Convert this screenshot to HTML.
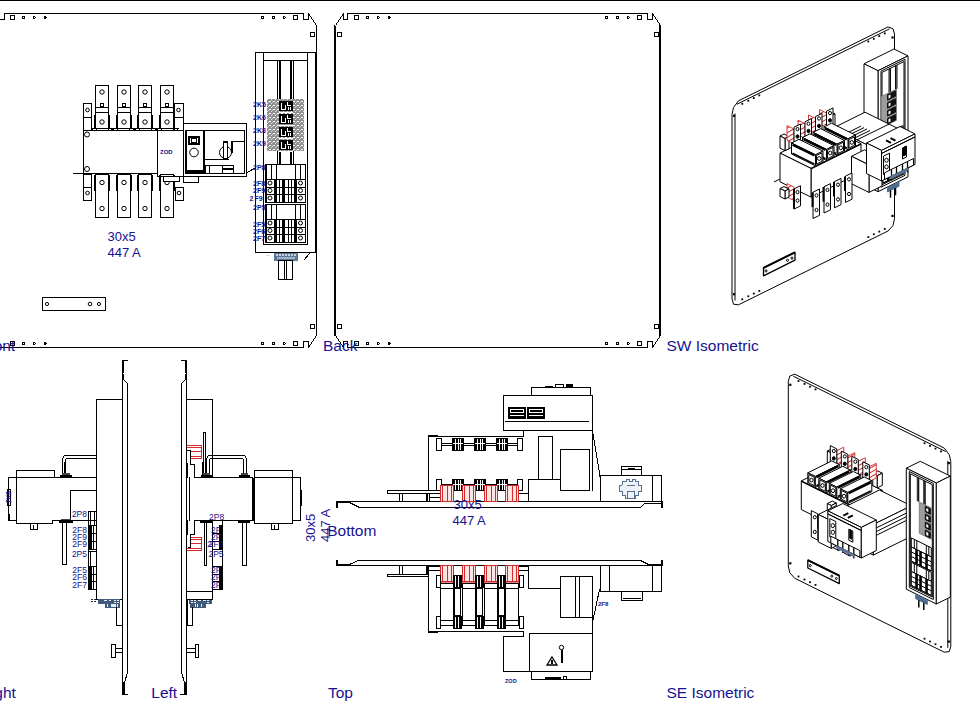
<!DOCTYPE html>
<html><head><meta charset="utf-8"><style>
html,body{margin:0;padding:0;background:#fff;width:980px;height:720px;overflow:hidden}
svg{display:block;font-family:"Liberation Sans",sans-serif}
</style></head><body>
<svg width="980" height="720" viewBox="0 0 980 720" shape-rendering="crispEdges">
<rect x="0" y="0" width="980" height="1" fill="#000"/>
<path d="M-0.5 19.5 L4.5 19.5 L4.5 13.5 L303.5 13.5 L303.5 19.5 L308.5 19.5 L308.5 13.5 L316.5 25.5 L316.5 335.5 L308.5 347.5 L308.5 341.5 L303.5 341.5 L303.5 347.5 L-0.5 347.5" fill="none" stroke="#000" stroke-width="1"/>
<path d="M10.5 15.5H14.5V19.5H10.5Z" fill="none" stroke="#000"/>
<path d="M22.5 16.5H24.5V18.5H22.5Z" fill="none" stroke="#000"/>
<rect x="33" y="16" width="1" height="3" fill="#000"/>
<rect x="34" y="16" width="1" height="1" fill="#000"/>
<rect x="34" y="18" width="1" height="1" fill="#000"/>
<rect x="35" y="17" width="1" height="1" fill="#000"/>
<rect x="44" y="16" width="2" height="3" fill="#000"/>
<rect x="46" y="17" width="1" height="1" fill="#000"/>
<path d="M261.5 16.5H263.5V18.5H261.5Z" fill="none" stroke="#000"/>
<path d="M272.5 16.5H274.5V18.5H272.5Z" fill="none" stroke="#000"/>
<rect x="283" y="16" width="1" height="3" fill="#000"/>
<rect x="284" y="16" width="1" height="1" fill="#000"/>
<rect x="284" y="18" width="1" height="1" fill="#000"/>
<rect x="285" y="17" width="1" height="1" fill="#000"/>
<path d="M293.5 15.5H297.5V19.5H293.5Z" fill="none" stroke="#000"/>
<path d="M310.5 32.5H314.5V36.5H310.5Z" fill="none" stroke="#000"/>
<path d="M310.5 324.5H314.5V328.5H310.5Z" fill="none" stroke="#000"/>
<path d="M10.5 341.5H14.5V345.5H10.5Z" fill="none" stroke="#000"/>
<path d="M22.5 342.5H24.5V344.5H22.5Z" fill="none" stroke="#000"/>
<rect x="33" y="342" width="1" height="3" fill="#000"/>
<rect x="34" y="342" width="1" height="1" fill="#000"/>
<rect x="34" y="344" width="1" height="1" fill="#000"/>
<rect x="35" y="343" width="1" height="1" fill="#000"/>
<rect x="44" y="342" width="2" height="3" fill="#000"/>
<rect x="46" y="343" width="1" height="1" fill="#000"/>
<path d="M261.5 342.5H263.5V344.5H261.5Z" fill="none" stroke="#000"/>
<path d="M272.5 342.5H274.5V344.5H272.5Z" fill="none" stroke="#000"/>
<rect x="283" y="342" width="1" height="3" fill="#000"/>
<rect x="284" y="342" width="1" height="1" fill="#000"/>
<rect x="284" y="344" width="1" height="1" fill="#000"/>
<rect x="285" y="343" width="1" height="1" fill="#000"/>
<path d="M293.5 341.5H297.5V345.5H293.5Z" fill="none" stroke="#000"/>
<path d="M335.5 25.5 L343.5 13.5 L343.5 19.5 L347.5 19.5 L347.5 13.5 L647.5 13.5 L647.5 19.5 L652.5 19.5 L652.5 13.5 L660.5 25.5 L660.5 335.5 L652.5 347.5 L652.5 341.5 L647.5 341.5 L647.5 347.5 L347.5 347.5 L347.5 341.5 L343.5 341.5 L343.5 347.5 L335.5 335.5 L335.5 25.5" fill="none" stroke="#000" stroke-width="1"/>
<rect x="334" y="25" width="1" height="311" fill="#000"/>
<rect x="659" y="25" width="1" height="311" fill="#000"/>
<path d="M354.5 15.5H358.5V19.5H354.5Z" fill="none" stroke="#000"/>
<path d="M366.5 16.5H368.5V18.5H366.5Z" fill="none" stroke="#000"/>
<rect x="377" y="16" width="1" height="3" fill="#000"/>
<rect x="378" y="16" width="1" height="1" fill="#000"/>
<rect x="378" y="18" width="1" height="1" fill="#000"/>
<rect x="379" y="17" width="1" height="1" fill="#000"/>
<rect x="388" y="16" width="2" height="3" fill="#000"/>
<rect x="390" y="17" width="1" height="1" fill="#000"/>
<path d="M605.5 16.5H607.5V18.5H605.5Z" fill="none" stroke="#000"/>
<path d="M616.5 16.5H618.5V18.5H616.5Z" fill="none" stroke="#000"/>
<rect x="627" y="16" width="1" height="3" fill="#000"/>
<rect x="628" y="16" width="1" height="1" fill="#000"/>
<rect x="628" y="18" width="1" height="1" fill="#000"/>
<rect x="629" y="17" width="1" height="1" fill="#000"/>
<path d="M637.5 15.5H641.5V19.5H637.5Z" fill="none" stroke="#000"/>
<path d="M337.5 32.5H341.5V36.5H337.5Z" fill="none" stroke="#000"/>
<path d="M337.5 324.5H341.5V328.5H337.5Z" fill="none" stroke="#000"/>
<path d="M654.5 32.5H658.5V36.5H654.5Z" fill="none" stroke="#000"/>
<path d="M654.5 324.5H658.5V328.5H654.5Z" fill="none" stroke="#000"/>
<path d="M354.5 341.5H358.5V345.5H354.5Z" fill="none" stroke="#000"/>
<path d="M366.5 342.5H368.5V344.5H366.5Z" fill="none" stroke="#000"/>
<rect x="377" y="342" width="1" height="3" fill="#000"/>
<rect x="378" y="342" width="1" height="1" fill="#000"/>
<rect x="378" y="344" width="1" height="1" fill="#000"/>
<rect x="379" y="343" width="1" height="1" fill="#000"/>
<rect x="388" y="342" width="2" height="3" fill="#000"/>
<rect x="390" y="343" width="1" height="1" fill="#000"/>
<path d="M605.5 342.5H607.5V344.5H605.5Z" fill="none" stroke="#000"/>
<path d="M616.5 342.5H618.5V344.5H616.5Z" fill="none" stroke="#000"/>
<rect x="627" y="342" width="1" height="3" fill="#000"/>
<rect x="628" y="342" width="1" height="1" fill="#000"/>
<rect x="628" y="344" width="1" height="1" fill="#000"/>
<rect x="629" y="343" width="1" height="1" fill="#000"/>
<path d="M637.5 341.5H641.5V345.5H637.5Z" fill="none" stroke="#000"/>
<text x="-21" y="350.5" font-size="15.5" fill="#161290" text-anchor="start" >Front</text>
<text x="323" y="350.5" font-size="15.5" fill="#161290" text-anchor="start" >Back</text>
<text x="666.5" y="350.6" font-size="15.5" fill="#161290" text-anchor="start" >SW Isometric</text>
<text x="-20.3" y="698" font-size="15.5" fill="#161290" text-anchor="start" >Right</text>
<text x="151.3" y="697.5" font-size="15.5" fill="#161290" text-anchor="start" >Left</text>
<text x="328" y="697.8" font-size="15.5" fill="#161290" text-anchor="start" >Top</text>
<text x="327.2" y="535.7" font-size="15.5" fill="#161290" text-anchor="start" >Bottom</text>
<text x="666.5" y="697.6" font-size="15.5" fill="#161290" text-anchor="start" >SE Isometric</text>
<defs><pattern id="gp" width="4" height="4" patternUnits="userSpaceOnUse"><rect width="4" height="4" fill="#909090"/><rect x="1" y="1" width="2" height="1" fill="#fff"/><rect x="3" y="3" width="1" height="1" fill="#e0e0e0"/><rect x="0" y="2" width="1" height="1" fill="#d0d0d0"/></pattern><pattern id="rh" width="3" height="3" patternUnits="userSpaceOnUse"><rect width="3" height="3" fill="#fff"/><rect x="0" y="0" width="1" height="3" fill="#d42a2a"/></pattern><pattern id="rd" width="4" height="4" patternUnits="userSpaceOnUse" patternTransform="rotate(-30)"><rect width="4" height="4" fill="#fff"/><rect x="0" y="0" width="4" height="1.2" fill="#d42a2a"/></pattern></defs>
<path d="M95.5 85.5H108.5V128.5H95.5Z" fill="none" stroke="#000"/>
<rect x="95" y="107" width="14" height="1" fill="#000"/>
<rect x="95" y="112" width="14" height="1" fill="#000"/>
<circle cx="102" cy="92" r="2.2" fill="none" stroke="#000" stroke-width="1" shape-rendering="auto"/>
<path d="M100.5 103.5H103.5V106.5H100.5Z" fill="none" stroke="#000"/>
<circle cx="102" cy="122" r="2.2" fill="none" stroke="#000" stroke-width="1" shape-rendering="auto"/>
<rect x="94" y="115" width="2" height="13" fill="#000"/>
<rect x="108" y="115" width="2" height="13" fill="#000"/>
<path d="M117.5 85.5H130.5V128.5H117.5Z" fill="none" stroke="#000"/>
<rect x="117" y="107" width="14" height="1" fill="#000"/>
<rect x="117" y="112" width="14" height="1" fill="#000"/>
<circle cx="124" cy="92" r="2.2" fill="none" stroke="#000" stroke-width="1" shape-rendering="auto"/>
<path d="M122.5 103.5H125.5V106.5H122.5Z" fill="none" stroke="#000"/>
<circle cx="124" cy="122" r="2.2" fill="none" stroke="#000" stroke-width="1" shape-rendering="auto"/>
<rect x="116" y="115" width="2" height="13" fill="#000"/>
<rect x="130" y="115" width="2" height="13" fill="#000"/>
<path d="M138.5 85.5H151.5V128.5H138.5Z" fill="none" stroke="#000"/>
<rect x="138" y="107" width="14" height="1" fill="#000"/>
<rect x="138" y="112" width="14" height="1" fill="#000"/>
<circle cx="145" cy="92" r="2.2" fill="none" stroke="#000" stroke-width="1" shape-rendering="auto"/>
<path d="M143.5 103.5H146.5V106.5H143.5Z" fill="none" stroke="#000"/>
<circle cx="145" cy="122" r="2.2" fill="none" stroke="#000" stroke-width="1" shape-rendering="auto"/>
<rect x="137" y="115" width="2" height="13" fill="#000"/>
<rect x="151" y="115" width="2" height="13" fill="#000"/>
<path d="M160.5 85.5H173.5V128.5H160.5Z" fill="none" stroke="#000"/>
<rect x="160" y="107" width="14" height="1" fill="#000"/>
<rect x="160" y="112" width="14" height="1" fill="#000"/>
<circle cx="167" cy="92" r="2.2" fill="none" stroke="#000" stroke-width="1" shape-rendering="auto"/>
<path d="M165.5 103.5H168.5V106.5H165.5Z" fill="none" stroke="#000"/>
<circle cx="167" cy="122" r="2.2" fill="none" stroke="#000" stroke-width="1" shape-rendering="auto"/>
<rect x="159" y="115" width="2" height="13" fill="#000"/>
<rect x="173" y="115" width="2" height="13" fill="#000"/>
<rect x="92" y="128" width="87" height="1" fill="#000"/>
<rect x="83" y="130" width="101" height="1" fill="#000"/>
<rect x="92" y="129" width="1" height="1" fill="#000"/>
<rect x="96" y="129" width="1" height="1" fill="#000"/>
<rect x="108" y="129" width="1" height="1" fill="#000"/>
<rect x="111" y="129" width="1" height="1" fill="#000"/>
<rect x="112" y="129" width="1" height="1" fill="#000"/>
<rect x="113" y="129" width="1" height="1" fill="#000"/>
<rect x="117" y="129" width="1" height="1" fill="#000"/>
<rect x="129" y="129" width="1" height="1" fill="#000"/>
<rect x="133" y="129" width="1" height="1" fill="#000"/>
<rect x="134" y="129" width="1" height="1" fill="#000"/>
<rect x="135" y="129" width="1" height="1" fill="#000"/>
<rect x="139" y="129" width="1" height="1" fill="#000"/>
<rect x="151" y="129" width="1" height="1" fill="#000"/>
<rect x="155" y="129" width="1" height="1" fill="#000"/>
<rect x="156" y="129" width="1" height="1" fill="#000"/>
<rect x="157" y="129" width="1" height="1" fill="#000"/>
<rect x="161" y="129" width="1" height="1" fill="#000"/>
<rect x="173" y="129" width="1" height="1" fill="#000"/>
<rect x="177" y="129" width="1" height="1" fill="#000"/>
<path d="M83.5 103.5H91.5V130.5H83.5Z" fill="none" stroke="#000"/>
<rect x="83" y="117" width="9" height="1" fill="#000"/>
<path d="M174.5 103.5H183.5V130.5H174.5Z" fill="none" stroke="#000"/>
<rect x="174" y="117" width="10" height="1" fill="#000"/>
<circle cx="87.5" cy="110" r="1.8" fill="none" stroke="#000" stroke-width="1" shape-rendering="auto"/>
<circle cx="178.5" cy="110" r="1.8" fill="none" stroke="#000" stroke-width="1" shape-rendering="auto"/>
<path d="M83.5 130.5H157.5V173.5H83.5Z" fill="none" stroke="#000"/>
<rect x="73" y="173" width="85" height="1" fill="#000"/>
<path d="M157.5 130.5H183.5V176.5H157.5Z" fill="none" stroke="#000"/>
<circle cx="87" cy="134.5" r="2.5" fill="none" stroke="#000" stroke-width="1" shape-rendering="auto"/>
<circle cx="87" cy="169" r="2.5" fill="none" stroke="#000" stroke-width="1" shape-rendering="auto"/>
<text x="160" y="154" font-size="6" fill="#161290" text-anchor="start" font-weight="bold">ZOD</text>
<path d="M95.5 174.5H108.5V217.5H95.5Z" fill="none" stroke="#000"/>
<circle cx="102" cy="182.5" r="2.2" fill="none" stroke="#000" stroke-width="1" shape-rendering="auto"/>
<circle cx="102" cy="208.5" r="2.2" fill="none" stroke="#000" stroke-width="1" shape-rendering="auto"/>
<rect x="94" y="175" width="2" height="16" fill="#000"/>
<rect x="109" y="175" width="1" height="16" fill="#000"/>
<path d="M117.5 174.5H130.5V217.5H117.5Z" fill="none" stroke="#000"/>
<circle cx="124" cy="182.5" r="2.2" fill="none" stroke="#000" stroke-width="1" shape-rendering="auto"/>
<circle cx="124" cy="208.5" r="2.2" fill="none" stroke="#000" stroke-width="1" shape-rendering="auto"/>
<rect x="116" y="175" width="2" height="16" fill="#000"/>
<rect x="131" y="175" width="1" height="16" fill="#000"/>
<path d="M138.5 174.5H151.5V217.5H138.5Z" fill="none" stroke="#000"/>
<circle cx="145" cy="182.5" r="2.2" fill="none" stroke="#000" stroke-width="1" shape-rendering="auto"/>
<circle cx="145" cy="208.5" r="2.2" fill="none" stroke="#000" stroke-width="1" shape-rendering="auto"/>
<rect x="137" y="175" width="2" height="16" fill="#000"/>
<rect x="152" y="175" width="1" height="16" fill="#000"/>
<path d="M160.5 174.5H173.5V217.5H160.5Z" fill="none" stroke="#000"/>
<circle cx="167" cy="182.5" r="2.2" fill="none" stroke="#000" stroke-width="1" shape-rendering="auto"/>
<circle cx="167" cy="208.5" r="2.2" fill="none" stroke="#000" stroke-width="1" shape-rendering="auto"/>
<rect x="159" y="175" width="2" height="16" fill="#000"/>
<rect x="174" y="175" width="1" height="16" fill="#000"/>
<path d="M83.5 174.5H91.5V200.5H83.5Z" fill="none" stroke="#000"/>
<rect x="83" y="187" width="9" height="1" fill="#000"/>
<circle cx="87.5" cy="193" r="1.8" fill="none" stroke="#000" stroke-width="1" shape-rendering="auto"/>
<path d="M175.5 187.5H183.5V200.5H175.5Z" fill="none" stroke="#000"/>
<circle cx="179" cy="193" r="1.8" fill="none" stroke="#000" stroke-width="1" shape-rendering="auto"/>
<path d="M163.5 176.5H179.5V181.5H163.5Z" fill="#fff" stroke="#000"/>
<path d="M183.5 176.5H198.5V182.5H183.5Z" fill="none" stroke="#000"/>
<path d="M183.5 123.5H246.5V176.5H183.5Z" fill="none" stroke="#000"/>
<path d="M185.5 130.5H244.5V173.5H185.5Z" fill="none" stroke="#000"/>
<rect x="186" y="130" width="1" height="44" fill="#000"/>
<rect x="203" y="130" width="2" height="44" fill="#000"/>
<rect x="186" y="170" width="18" height="3" fill="#000"/>
<path d="M188.5 136.5H199.5V144.5H188.5Z" fill="none" stroke="#000"/>
<path d="M189.5 137.5H198.5V143.5H189.5Z" fill="none" stroke="#000"/>
<path d="M191.5 138.5H196.5V142.5H191.5Z" fill="none" stroke="#000"/>
<circle cx="194" cy="152.5" r="4.3" fill="none" stroke="#000" stroke-width="1" shape-rendering="auto"/>
<rect x="204" y="159" width="25" height="1" fill="#000"/>
<rect x="231" y="141" width="2" height="12" fill="#000"/>
<rect x="231" y="141" width="14" height="1" fill="#000"/>
<circle cx="225.5" cy="152.5" r="6" fill="none" stroke="#000" stroke-width="1" shape-rendering="auto"/>
<path d="M223.5 141.5H227.5V158.5H223.5Z" fill="#fff" stroke="#000"/>
<rect x="223" y="141" width="5" height="2" fill="#000"/>
<path d="M205.5 165.5H233.5V173.5H205.5Z" fill="none" stroke="#000"/>
<rect x="209" y="165" width="1" height="9" fill="#000"/>
<rect x="222" y="165" width="1" height="9" fill="#000"/>
<rect x="222" y="168" width="12" height="2" fill="#000"/>
<line x1="247.5" y1="172.5" x2="255.5" y2="167.5" stroke="#000" stroke-width="1"/>
<rect x="255" y="52" width="1" height="201" fill="#000"/>
<rect x="263" y="52" width="1" height="193" fill="#000"/>
<rect x="307" y="52" width="1" height="193" fill="#000"/>
<rect x="315" y="52" width="1" height="201" fill="#000"/>
<rect x="255" y="52" width="61" height="1" fill="#000"/>
<rect x="263" y="60" width="45" height="1" fill="#000"/>
<rect x="277" y="60" width="1" height="40" fill="#000"/>
<rect x="279" y="60" width="2" height="40" fill="#000"/>
<rect x="290" y="60" width="2" height="40" fill="#000"/>
<rect x="293" y="60" width="1" height="40" fill="#000"/>
<rect x="277" y="150" width="1" height="15" fill="#000"/>
<rect x="279" y="150" width="2" height="15" fill="#000"/>
<rect x="290" y="150" width="2" height="15" fill="#000"/>
<rect x="293" y="150" width="1" height="15" fill="#000"/>
<rect x="267" y="99" width="37" height="52" fill="url(#gp)"/>
<rect x="279" y="101" width="14" height="10" fill="#000"/>
<rect x="281" y="103" width="1" height="7" fill="#fff"/>
<rect x="281" y="109" width="5" height="1" fill="#fff"/>
<rect x="285" y="105" width="1" height="5" fill="#fff"/>
<rect x="287" y="102" width="1" height="4" fill="#fff"/>
<rect x="287" y="105" width="4" height="1" fill="#fff"/>
<rect x="288" y="107" width="1" height="3" fill="#fff"/>
<rect x="290" y="107" width="1" height="3" fill="#fff"/>
<rect x="279" y="112" width="14" height="1" fill="#fff"/>
<rect x="279" y="114" width="14" height="10" fill="#000"/>
<rect x="281" y="116" width="1" height="7" fill="#fff"/>
<rect x="281" y="122" width="5" height="1" fill="#fff"/>
<rect x="285" y="118" width="1" height="5" fill="#fff"/>
<rect x="287" y="115" width="1" height="4" fill="#fff"/>
<rect x="287" y="118" width="4" height="1" fill="#fff"/>
<rect x="288" y="120" width="1" height="3" fill="#fff"/>
<rect x="290" y="120" width="1" height="3" fill="#fff"/>
<rect x="279" y="125" width="14" height="1" fill="#fff"/>
<rect x="279" y="127" width="14" height="10" fill="#000"/>
<rect x="281" y="129" width="1" height="7" fill="#fff"/>
<rect x="281" y="135" width="5" height="1" fill="#fff"/>
<rect x="285" y="131" width="1" height="5" fill="#fff"/>
<rect x="287" y="128" width="1" height="4" fill="#fff"/>
<rect x="287" y="131" width="4" height="1" fill="#fff"/>
<rect x="288" y="133" width="1" height="3" fill="#fff"/>
<rect x="290" y="133" width="1" height="3" fill="#fff"/>
<rect x="279" y="138" width="14" height="1" fill="#fff"/>
<rect x="279" y="140" width="14" height="10" fill="#000"/>
<rect x="281" y="142" width="1" height="7" fill="#fff"/>
<rect x="281" y="148" width="5" height="1" fill="#fff"/>
<rect x="285" y="144" width="1" height="5" fill="#fff"/>
<rect x="287" y="141" width="1" height="4" fill="#fff"/>
<rect x="287" y="144" width="4" height="1" fill="#fff"/>
<rect x="288" y="146" width="1" height="3" fill="#fff"/>
<rect x="290" y="146" width="1" height="3" fill="#fff"/>
<rect x="279" y="151" width="14" height="1" fill="#fff"/>
<text x="253" y="107" font-size="7" fill="#161290" text-anchor="start" font-weight="bold">2K5</text>
<text x="253" y="120" font-size="7" fill="#161290" text-anchor="start" font-weight="bold">2K6</text>
<text x="253" y="133" font-size="7" fill="#161290" text-anchor="start" font-weight="bold">2K8</text>
<text x="253" y="146" font-size="7" fill="#161290" text-anchor="start" font-weight="bold">2K9</text>
<path d="M265.5 164.5H305.5V179.5H265.5Z" fill="none" stroke="#000"/>
<rect x="265" y="164" width="2" height="16" fill="#000"/>
<rect x="271" y="164" width="1" height="16" fill="#000"/>
<rect x="276" y="164" width="1" height="16" fill="#000"/>
<rect x="295" y="164" width="1" height="16" fill="#000"/>
<rect x="300" y="164" width="1" height="16" fill="#000"/>
<path d="M265.5 179.5H305.5V202.5H265.5Z" fill="none" stroke="#000"/>
<rect x="265" y="179" width="2" height="24" fill="#000"/>
<rect x="265" y="187" width="41" height="1" fill="#000"/>
<rect x="265" y="194" width="41" height="1" fill="#000"/>
<rect x="274" y="179" width="3" height="24" fill="#000"/>
<rect x="282" y="179" width="3" height="24" fill="#000"/>
<rect x="294" y="179" width="3" height="24" fill="#000"/>
<rect x="279" y="179" width="1" height="24" fill="#000"/>
<rect x="288" y="179" width="1" height="24" fill="#000"/>
<rect x="291" y="179" width="1" height="24" fill="#000"/>
<circle cx="270" cy="183.0" r="2" fill="none" stroke="#000" stroke-width="1" shape-rendering="auto"/>
<circle cx="300.5" cy="183.0" r="2" fill="none" stroke="#000" stroke-width="1" shape-rendering="auto"/>
<circle cx="270" cy="190.5" r="2" fill="none" stroke="#000" stroke-width="1" shape-rendering="auto"/>
<circle cx="300.5" cy="190.5" r="2" fill="none" stroke="#000" stroke-width="1" shape-rendering="auto"/>
<circle cx="270" cy="198.0" r="2" fill="none" stroke="#000" stroke-width="1" shape-rendering="auto"/>
<circle cx="300.5" cy="198.0" r="2" fill="none" stroke="#000" stroke-width="1" shape-rendering="auto"/>
<path d="M265.5 204.5H305.5V219.5H265.5Z" fill="none" stroke="#000"/>
<rect x="265" y="204" width="2" height="16" fill="#000"/>
<rect x="271" y="204" width="1" height="16" fill="#000"/>
<rect x="276" y="204" width="1" height="16" fill="#000"/>
<rect x="295" y="204" width="1" height="16" fill="#000"/>
<rect x="300" y="204" width="1" height="16" fill="#000"/>
<path d="M265.5 219.5H305.5V242.5H265.5Z" fill="none" stroke="#000"/>
<rect x="265" y="219" width="2" height="24" fill="#000"/>
<rect x="265" y="227" width="41" height="1" fill="#000"/>
<rect x="265" y="234" width="41" height="1" fill="#000"/>
<rect x="274" y="219" width="3" height="24" fill="#000"/>
<rect x="282" y="219" width="3" height="24" fill="#000"/>
<rect x="294" y="219" width="3" height="24" fill="#000"/>
<rect x="279" y="219" width="1" height="24" fill="#000"/>
<rect x="288" y="219" width="1" height="24" fill="#000"/>
<rect x="291" y="219" width="1" height="24" fill="#000"/>
<circle cx="270" cy="223.0" r="2" fill="none" stroke="#000" stroke-width="1" shape-rendering="auto"/>
<circle cx="300.5" cy="223.0" r="2" fill="none" stroke="#000" stroke-width="1" shape-rendering="auto"/>
<circle cx="270" cy="230.5" r="2" fill="none" stroke="#000" stroke-width="1" shape-rendering="auto"/>
<circle cx="300.5" cy="230.5" r="2" fill="none" stroke="#000" stroke-width="1" shape-rendering="auto"/>
<circle cx="270" cy="238.0" r="2" fill="none" stroke="#000" stroke-width="1" shape-rendering="auto"/>
<circle cx="300.5" cy="238.0" r="2" fill="none" stroke="#000" stroke-width="1" shape-rendering="auto"/>
<rect x="263" y="244" width="45" height="1" fill="#000"/>
<rect x="255" y="252" width="61" height="1" fill="#000"/>
<text x="253" y="170" font-size="7" fill="#161290" text-anchor="start" font-weight="bold">2P8</text>
<text x="253" y="186" font-size="7" fill="#161290" text-anchor="start" font-weight="bold">2F8</text>
<text x="253" y="193" font-size="7" fill="#161290" text-anchor="start" font-weight="bold">2F9</text>
<text x="253" y="210" font-size="7" fill="#161290" text-anchor="start" font-weight="bold">2P5</text>
<text x="253" y="227" font-size="7" fill="#161290" text-anchor="start" font-weight="bold">2F5</text>
<text x="253" y="234" font-size="7" fill="#161290" text-anchor="start" font-weight="bold">2F6</text>
<text x="253" y="241" font-size="7" fill="#161290" text-anchor="start" font-weight="bold">2F7</text>
<text x="249.5" y="201" font-size="7" fill="#161290" text-anchor="start" font-weight="bold">2</text>
<text x="254.5" y="201" font-size="7" fill="#161290" text-anchor="start" font-weight="bold">F9</text>
<rect x="274" y="253" width="24" height="8" fill="#5a7696"/>
<rect x="276" y="254" width="2" height="2" fill="#c8d4e0"/>
<rect x="279" y="254" width="2" height="2" fill="#c8d4e0"/>
<rect x="282" y="254" width="2" height="2" fill="#c8d4e0"/>
<rect x="285" y="254" width="2" height="2" fill="#c8d4e0"/>
<rect x="288" y="254" width="2" height="2" fill="#c8d4e0"/>
<rect x="291" y="254" width="2" height="2" fill="#c8d4e0"/>
<rect x="294" y="254" width="2" height="2" fill="#c8d4e0"/>
<rect x="277" y="257" width="18" height="2" fill="#9fb2c6"/>
<path d="M278.5 260.5H292.5V279.5H278.5Z" fill="none" stroke="#000"/>
<rect x="284" y="260" width="1" height="20" fill="#000"/>
<rect x="286" y="260" width="1" height="20" fill="#000"/>
<line x1="303.5" y1="260.5" x2="309.5" y2="253.5" stroke="#000" stroke-width="1"/>
<text x="266" y="256" font-size="6" fill="#161290" text-anchor="start" >..</text>
<path d="M42.5 297.5H105.5V310.5H42.5Z" fill="none" stroke="#000"/>
<circle cx="47" cy="304" r="1.6" fill="none" stroke="#000" stroke-width="1" shape-rendering="auto"/>
<circle cx="90" cy="304" r="1.8" fill="none" stroke="#000" stroke-width="1" shape-rendering="auto"/>
<circle cx="99" cy="304" r="1.6" fill="none" stroke="#000" stroke-width="1" shape-rendering="auto"/>
<text x="107.5" y="240.7" font-size="13" fill="#161290" text-anchor="start" >30x5</text>
<text x="107.5" y="256.6" font-size="13" fill="#161290" text-anchor="start" >447 A</text>
<rect x="122" y="360" width="6" height="1" fill="#000"/>
<rect x="122" y="360" width="1" height="335" fill="#000"/>
<rect x="123" y="360" width="1" height="13" fill="#000"/>
<path d="M123.5 373.5 L123.5 379.5 L127.5 383.5 L127.5 672.5 L124.5 682.5 L124.5 694.5" fill="none" stroke="#000" stroke-width="1"/>
<rect x="122" y="694" width="6" height="1" fill="#000"/>
<rect x="123" y="682" width="1" height="13" fill="#000"/>
<path d="M96.5 399.5H122.5V599.5H96.5Z" fill="none" stroke="#000"/>
<path d="M62.5 476.5 L62.5 458.5 L64.5 455.5 L96.5 455.5" fill="none" stroke="#000" stroke-width="1"/>
<path d="M65.5 476.5 L65.5 459.5 L66.5 458.5 L96.5 458.5" fill="none" stroke="#000" stroke-width="1"/>
<rect x="64" y="462" width="1" height="15" fill="#000"/>
<rect x="60" y="475" width="12" height="2" fill="#000"/>
<rect x="62" y="473" width="8" height="2" fill="#444"/>
<rect x="8" y="477" width="89" height="1" fill="#000"/>
<path d="M16.5 470.5H54.5V477.5H16.5Z" fill="none" stroke="#000"/>
<rect x="16" y="477" width="1" height="47" fill="#000"/>
<rect x="16" y="523" width="37" height="1" fill="#000"/>
<rect x="52" y="520" width="1" height="4" fill="#000"/>
<rect x="52" y="520" width="45" height="1" fill="#000"/>
<path d="M8.5 477.5H16.5V520.5H8.5Z" fill="none" stroke="#000"/>
<rect x="8" y="514" width="2" height="7" fill="#000"/>
<path d="M7.5 489.5H10.5V505.5H7.5Z" fill="none" stroke="#000"/>
<text x="0" y="0" font-size="6.5" fill="#161290" text-anchor="start" transform="translate(10.5 503) rotate(-90)" font-weight="bold">2K8</text>
<path d="M70.5 490.5H96.5V520.5H70.5Z" fill="none" stroke="#000"/>
<path d="M30.5 523.5H37.5V529.5H30.5Z" fill="none" stroke="#000"/>
<rect x="33" y="525" width="1" height="5" fill="#000"/>
<rect x="59" y="520" width="14" height="3" fill="#000"/>
<rect x="61" y="519" width="10" height="1" fill="#444"/>
<rect x="62" y="522" width="1" height="43" fill="#000"/>
<rect x="66" y="522" width="1" height="43" fill="#000"/>
<rect x="62" y="564" width="5" height="1" fill="#000"/>
<path d="M88.5 511.5H96.5V589.5H88.5Z" fill="none" stroke="#000"/>
<rect x="90" y="511" width="1" height="15" fill="#000"/>
<rect x="94" y="511" width="1" height="15" fill="#000"/>
<rect x="88" y="525" width="9" height="1" fill="#000"/>
<rect x="88" y="525" width="4" height="25" fill="#000"/>
<rect x="88" y="533" width="9" height="1" fill="#000"/>
<rect x="88" y="541" width="9" height="1" fill="#000"/>
<rect x="88" y="549" width="9" height="1" fill="#000"/>
<rect x="93" y="525" width="1" height="25" fill="#000"/>
<rect x="90" y="551" width="1" height="16" fill="#000"/>
<rect x="88" y="551" width="9" height="1" fill="#000"/>
<rect x="88" y="566" width="9" height="1" fill="#000"/>
<rect x="88" y="567" width="4" height="23" fill="#000"/>
<rect x="88" y="574" width="9" height="1" fill="#000"/>
<rect x="88" y="581" width="9" height="1" fill="#000"/>
<rect x="93" y="567" width="1" height="23" fill="#000"/>
<text x="87" y="517" font-size="8.5" fill="#161290" text-anchor="end" >2P8</text>
<text x="87" y="533" font-size="8.5" fill="#161290" text-anchor="end" >2F8</text>
<text x="87" y="540" font-size="8.5" fill="#161290" text-anchor="end" >2F9</text>
<text x="87" y="547" font-size="8.5" fill="#161290" text-anchor="end" >2F9</text>
<text x="87" y="557" font-size="8.5" fill="#161290" text-anchor="end" >2P5</text>
<text x="87" y="573" font-size="8.5" fill="#161290" text-anchor="end" >2F5</text>
<text x="87" y="580" font-size="8.5" fill="#161290" text-anchor="end" >2F6</text>
<text x="87" y="588" font-size="8.5" fill="#161290" text-anchor="end" >2F7</text>
<rect x="98" y="599" width="22" height="5" fill="#3f5a7a"/>
<rect x="105" y="604" width="15" height="4" fill="#3f5a7a"/>
<rect x="104" y="600" width="3" height="1" fill="#e8eef4"/>
<rect x="109" y="600" width="2" height="1" fill="#e8eef4"/>
<rect x="114" y="600" width="2" height="1" fill="#e8eef4"/>
<rect x="117" y="600" width="2" height="1" fill="#e8eef4"/>
<rect x="114" y="602" width="2" height="1" fill="#e8eef4"/>
<rect x="117" y="602" width="2" height="1" fill="#e8eef4"/>
<rect x="107" y="604" width="1" height="3" fill="#e8eef4"/>
<rect x="111" y="604" width="5" height="3" fill="#e8eef4"/>
<rect x="117" y="604" width="1" height="3" fill="#e8eef4"/>
<rect x="91" y="599" width="2" height="1" fill="#222"/>
<rect x="94" y="599" width="2" height="1" fill="#222"/>
<rect x="91" y="601" width="2" height="1" fill="#222"/>
<rect x="94" y="601" width="2" height="1" fill="#222"/>
<rect x="116" y="607" width="1" height="19" fill="#000"/>
<rect x="116" y="625" width="7" height="1" fill="#000"/>
<path d="M111.5 644.5H115.5V657.5H111.5Z" fill="none" stroke="#000"/>
<rect x="115" y="648" width="8" height="1" fill="#000"/>
<rect x="115" y="652" width="8" height="1" fill="#000"/>
<rect x="181" y="360" width="6" height="1" fill="#000"/>
<rect x="186" y="360" width="1" height="335" fill="#000"/>
<rect x="185" y="360" width="1" height="13" fill="#000"/>
<path d="M185.5 373.5 L185.5 379.5 L181.5 383.5 L181.5 672.5 L184.5 682.5 L184.5 694.5" fill="none" stroke="#000" stroke-width="1"/>
<rect x="180" y="694" width="7" height="1" fill="#000"/>
<rect x="185" y="682" width="1" height="13" fill="#000"/>
<path d="M186.5 399.5H212.5V591.5H186.5Z" fill="none" stroke="#000"/>
<path d="M186.5 591.5H212.5V599.5H186.5Z" fill="none" stroke="#000"/>
<rect x="187" y="445" width="15" height="1" fill="#d42a2a"/>
<rect x="187" y="447" width="15" height="1" fill="#d42a2a"/>
<rect x="191" y="451" width="11" height="1" fill="#d42a2a"/>
<rect x="191" y="456" width="11" height="1" fill="#d42a2a"/>
<rect x="191" y="458" width="11" height="1" fill="#d42a2a"/>
<rect x="201" y="445" width="1" height="14" fill="#d42a2a"/>
<path d="M186.5 450.5 L190.5 450.5 L190.5 464.5 L194.5 464.5 L194.5 477.5" fill="none" stroke="#000" stroke-width="1"/>
<rect x="187" y="463" width="1" height="15" fill="#000"/>
<rect x="202" y="462" width="1" height="16" fill="#000"/>
<rect x="203" y="432" width="1" height="46" fill="#000"/>
<rect x="205" y="432" width="1" height="46" fill="#000"/>
<rect x="203" y="432" width="3" height="1" fill="#000"/>
<path d="M206.5 476.5 L206.5 458.5 L208.5 455.5 L244.5 455.5 L246.5 458.5 L246.5 476.5" fill="none" stroke="#000" stroke-width="1"/>
<path d="M209.5 476.5 L209.5 459.5 L210.5 458.5 L242.5 458.5 L243.5 459.5 L243.5 476.5" fill="none" stroke="#000" stroke-width="1"/>
<rect x="201" y="475" width="11" height="2" fill="#000"/>
<rect x="203" y="473" width="7" height="2" fill="#444"/>
<rect x="239" y="475" width="11" height="2" fill="#000"/>
<rect x="241" y="473" width="7" height="2" fill="#444"/>
<rect x="194" y="478" width="58" height="42" fill="#fff"/>
<rect x="194" y="477" width="59" height="1" fill="#000"/>
<rect x="194" y="520" width="59" height="1" fill="#000"/>
<rect x="252" y="478" width="2" height="43" fill="#000"/>
<path d="M254.5 470.5H292.5V477.5H254.5Z" fill="none" stroke="#000"/>
<path d="M254.5 477.5H292.5V523.5H254.5Z" fill="none" stroke="#000"/>
<path d="M292.5 477.5H300.5V520.5H292.5Z" fill="none" stroke="#000"/>
<rect x="300" y="490" width="2" height="16" fill="#000"/>
<path d="M271.5 523.5H278.5V529.5H271.5Z" fill="none" stroke="#000"/>
<rect x="274" y="525" width="1" height="5" fill="#000"/>
<text x="209" y="520" font-size="8.5" fill="#161290" text-anchor="start" >2P8</text>
<rect x="189" y="477" width="1" height="44" fill="#000"/>
<rect x="200" y="520" width="12" height="3" fill="#000"/>
<rect x="204" y="522" width="1" height="44" fill="#000"/>
<rect x="206" y="522" width="1" height="44" fill="#000"/>
<rect x="204" y="565" width="3" height="1" fill="#000"/>
<rect x="238" y="520" width="12" height="3" fill="#000"/>
<rect x="242" y="522" width="1" height="44" fill="#000"/>
<rect x="246" y="522" width="1" height="44" fill="#000"/>
<rect x="242" y="565" width="5" height="1" fill="#000"/>
<path d="M212.5 520.5H222.5V589.5H212.5Z" fill="none" stroke="#000"/>
<rect x="219" y="525" width="4" height="25" fill="#000"/>
<rect x="219" y="567" width="4" height="23" fill="#000"/>
<rect x="212" y="533" width="11" height="1" fill="#000"/>
<rect x="212" y="541" width="11" height="1" fill="#000"/>
<rect x="212" y="549" width="11" height="1" fill="#000"/>
<rect x="212" y="566" width="11" height="1" fill="#000"/>
<rect x="212" y="574" width="11" height="1" fill="#000"/>
<rect x="212" y="581" width="11" height="1" fill="#000"/>
<text x="216" y="533" font-size="8.5" fill="#161290" text-anchor="middle" >2F</text>
<text x="216" y="540" font-size="8.5" fill="#161290" text-anchor="middle" >2F</text>
<text x="216" y="547" font-size="8.5" fill="#161290" text-anchor="middle" >2F9</text>
<text x="216" y="557" font-size="8.5" fill="#161290" text-anchor="middle" >2P5</text>
<text x="216" y="573" font-size="8.5" fill="#161290" text-anchor="middle" >2F</text>
<text x="216" y="580" font-size="8.5" fill="#161290" text-anchor="middle" >2F</text>
<text x="216" y="588" font-size="8.5" fill="#161290" text-anchor="middle" >2F</text>
<text x="212" y="547" font-size="8.5" fill="#161290" text-anchor="end" >2</text>
<rect x="187" y="548" width="15" height="1" fill="#d42a2a"/>
<rect x="187" y="550" width="15" height="1" fill="#d42a2a"/>
<rect x="191" y="537" width="11" height="1" fill="#d42a2a"/>
<rect x="191" y="539" width="11" height="1" fill="#d42a2a"/>
<rect x="191" y="543" width="11" height="1" fill="#d42a2a"/>
<rect x="201" y="537" width="1" height="14" fill="#d42a2a"/>
<path d="M194.5 520.5 L194.5 534.5 L190.5 534.5 L190.5 547.5 L187.5 547.5" fill="none" stroke="#000" stroke-width="1"/>
<rect x="187" y="520" width="1" height="15" fill="#000"/>
<rect x="189" y="600" width="23" height="4" fill="#3f5a7a"/>
<rect x="190" y="604" width="16" height="4" fill="#3f5a7a"/>
<rect x="191" y="600" width="2" height="1" fill="#e8eef4"/>
<rect x="194" y="600" width="2" height="1" fill="#e8eef4"/>
<rect x="191" y="602" width="2" height="1" fill="#e8eef4"/>
<rect x="194" y="602" width="2" height="1" fill="#e8eef4"/>
<rect x="198" y="600" width="3" height="1" fill="#e8eef4"/>
<rect x="203" y="600" width="3" height="1" fill="#e8eef4"/>
<rect x="207" y="600" width="2" height="1" fill="#e8eef4"/>
<rect x="207" y="602" width="2" height="1" fill="#e8eef4"/>
<rect x="195" y="604" width="1" height="3" fill="#e8eef4"/>
<rect x="197" y="604" width="1" height="3" fill="#e8eef4"/>
<rect x="201" y="604" width="1" height="3" fill="#e8eef4"/>
<rect x="187" y="599" width="1" height="27" fill="#000"/>
<rect x="192" y="607" width="1" height="19" fill="#000"/>
<rect x="187" y="625" width="6" height="1" fill="#000"/>
<path d="M195.5 644.5H198.5V657.5H195.5Z" fill="none" stroke="#000"/>
<rect x="186" y="648" width="10" height="1" fill="#000"/>
<rect x="186" y="652" width="10" height="1" fill="#000"/>
<text x="0" y="0" font-size="13" fill="#161290" text-anchor="start" transform="translate(314.5 542) rotate(-90)">30x5</text>
<text x="0" y="0" font-size="13" fill="#161290" text-anchor="start" transform="translate(330 542) rotate(-90)">447 A</text>
<rect x="336" y="501" width="313" height="1" fill="#000"/>
<rect x="337" y="502" width="13" height="1" fill="#000"/>
<rect x="336" y="501" width="2" height="7" fill="#000"/>
<line x1="349.5" y1="502.5" x2="359.5" y2="507.5" stroke="#000" stroke-width="1"/>
<rect x="359" y="507" width="282" height="1" fill="#000"/>
<path d="M640.5 507.5 L642.5 505.5 L644.5 503.5 L661.5 503.5" fill="none" stroke="#000" stroke-width="1"/>
<rect x="648" y="501" width="14" height="1" fill="#000"/>
<rect x="661" y="501" width="2" height="7" fill="#000"/>
<path d="M387.5 490.5H450.5V493.5H387.5Z" fill="none" stroke="#000"/>
<rect x="399" y="493" width="1" height="9" fill="#000"/>
<rect x="402" y="493" width="1" height="9" fill="#000"/>
<rect x="426" y="493" width="2" height="9" fill="#000"/>
<rect x="429" y="493" width="1" height="9" fill="#000"/>
<rect x="429" y="497" width="12" height="1" fill="#000"/>
<rect x="428" y="436" width="1" height="55" fill="#000"/>
<rect x="428" y="436" width="96" height="1" fill="#000"/>
<rect x="428" y="435" width="10" height="1" fill="#000"/>
<rect x="523" y="430" width="1" height="7" fill="#000"/>
<path d="M503.5 395.5H592.5V430.5H503.5Z" fill="none" stroke="#000"/>
<path d="M531.5 387.5H590.5V395.5H531.5Z" fill="none" stroke="#000"/>
<path d="M555.5 384.5H563.5V387.5H555.5Z" fill="none" stroke="#000"/>
<rect x="566" y="384" width="7" height="4" fill="#000"/>
<rect x="545" y="386" width="8" height="2" fill="#000"/>
<rect x="505" y="421" width="84" height="1" fill="#000"/>
<rect x="508" y="407" width="18" height="12" fill="#000"/>
<path d="M510.5 409.5H523.5V412.5H510.5Z" fill="none" stroke="#fff"/>
<rect x="510" y="415" width="14" height="1" fill="#fff"/>
<rect x="527" y="407" width="18" height="12" fill="#000"/>
<path d="M529.5 409.5H542.5V412.5H529.5Z" fill="none" stroke="#fff"/>
<rect x="529" y="415" width="14" height="1" fill="#fff"/>
<rect x="592" y="430" width="1" height="20" fill="#000"/>
<line x1="592.5" y1="430.5" x2="600.5" y2="479.5" stroke="#000" stroke-width="1"/>
<path d="M538.5 436.5H552.5V479.5H538.5Z" fill="none" stroke="#000"/>
<path d="M560.5 449.5H589.5V490.5H560.5Z" fill="none" stroke="#000"/>
<rect x="592" y="449" width="1" height="42" fill="#000"/>
<rect x="528" y="479" width="1" height="23" fill="#000"/>
<rect x="528" y="479" width="33" height="1" fill="#000"/>
<rect x="519" y="493" width="10" height="1" fill="#000"/>
<path d="M600.5 475.5H661.5V501.5H600.5Z" fill="none" stroke="#000"/>
<rect x="652" y="475" width="1" height="27" fill="#000"/>
<path d="M621.5 466.5H641.5V475.5H621.5Z" fill="none" stroke="#000"/>
<rect x="621" y="469" width="21" height="1" fill="#000"/>
<rect x="628" y="468" width="7" height="2" fill="#000"/>
<path d="M623 481h3v-2h3v2h3v-2h3v2h3v4h3v6h-3v4h-3v3h-10v-3h-3v-4h-3v-6h3z" fill="#eef2f6" stroke="#5a7090" stroke-width="1"/>
<rect x="627" y="485" width="8" height="1" fill="#5a7090"/>
<path d="M627.5 491.5H634.5V498.5H627.5Z" fill="none" stroke="#5a7090"/>
<path d="M436.5 438.5H441.5V450.5H436.5Z" fill="none" stroke="#000"/>
<path d="M517.5 438.5H522.5V450.5H517.5Z" fill="none" stroke="#000"/>
<rect x="441" y="443" width="77" height="1" fill="#000"/>
<rect x="441" y="445" width="77" height="1" fill="#000"/>
<rect x="452" y="438" width="12" height="13" fill="#000"/>
<rect x="455" y="439" width="1" height="11" fill="#fff"/>
<rect x="458" y="439" width="1" height="11" fill="#fff"/>
<rect x="460" y="439" width="1" height="11" fill="#fff"/>
<rect x="453" y="443" width="10" height="1" fill="#fff"/>
<rect x="474" y="438" width="12" height="13" fill="#000"/>
<rect x="477" y="439" width="1" height="11" fill="#fff"/>
<rect x="480" y="439" width="1" height="11" fill="#fff"/>
<rect x="482" y="439" width="1" height="11" fill="#fff"/>
<rect x="475" y="443" width="10" height="1" fill="#fff"/>
<rect x="496" y="438" width="12" height="13" fill="#000"/>
<rect x="499" y="439" width="1" height="11" fill="#fff"/>
<rect x="502" y="439" width="1" height="11" fill="#fff"/>
<rect x="504" y="439" width="1" height="11" fill="#fff"/>
<rect x="497" y="443" width="10" height="1" fill="#fff"/>
<path d="M436.5 479.5H441.5V490.5H436.5Z" fill="none" stroke="#000"/>
<path d="M517.5 479.5H522.5V490.5H517.5Z" fill="none" stroke="#000"/>
<rect x="441" y="484" width="77" height="1" fill="#000"/>
<rect x="441" y="486" width="77" height="1" fill="#000"/>
<rect x="452" y="479" width="12" height="12" fill="#000"/>
<rect x="455" y="480" width="1" height="10" fill="#fff"/>
<rect x="458" y="480" width="1" height="10" fill="#fff"/>
<rect x="460" y="480" width="1" height="10" fill="#fff"/>
<rect x="453" y="484" width="10" height="1" fill="#fff"/>
<rect x="474" y="479" width="12" height="12" fill="#000"/>
<rect x="477" y="480" width="1" height="10" fill="#fff"/>
<rect x="480" y="480" width="1" height="10" fill="#fff"/>
<rect x="482" y="480" width="1" height="10" fill="#fff"/>
<rect x="475" y="484" width="10" height="1" fill="#fff"/>
<rect x="496" y="479" width="12" height="12" fill="#000"/>
<rect x="499" y="480" width="1" height="10" fill="#fff"/>
<rect x="502" y="480" width="1" height="10" fill="#fff"/>
<rect x="504" y="480" width="1" height="10" fill="#fff"/>
<rect x="497" y="484" width="10" height="1" fill="#fff"/>
<rect x="440" y="485" width="14" height="17" fill="#fbe4e4"/>
<path d="M440.5 485.5H453.5V501.5H440.5Z" fill="none" stroke="#d42a2a"/>
<rect x="442" y="485" width="1" height="17" fill="#d42a2a"/>
<rect x="447" y="485" width="1" height="17" fill="#d42a2a"/>
<rect x="451" y="485" width="1" height="17" fill="#d42a2a"/>
<rect x="462" y="485" width="14" height="17" fill="#fbe4e4"/>
<path d="M462.5 485.5H475.5V501.5H462.5Z" fill="none" stroke="#d42a2a"/>
<rect x="464" y="485" width="1" height="17" fill="#d42a2a"/>
<rect x="469" y="485" width="1" height="17" fill="#d42a2a"/>
<rect x="473" y="485" width="1" height="17" fill="#d42a2a"/>
<rect x="484" y="485" width="14" height="17" fill="#fbe4e4"/>
<path d="M484.5 485.5H497.5V501.5H484.5Z" fill="none" stroke="#d42a2a"/>
<rect x="486" y="485" width="1" height="17" fill="#d42a2a"/>
<rect x="491" y="485" width="1" height="17" fill="#d42a2a"/>
<rect x="495" y="485" width="1" height="17" fill="#d42a2a"/>
<rect x="505" y="485" width="14" height="17" fill="#fbe4e4"/>
<path d="M505.5 485.5H518.5V501.5H505.5Z" fill="none" stroke="#d42a2a"/>
<rect x="507" y="485" width="1" height="17" fill="#d42a2a"/>
<rect x="512" y="485" width="1" height="17" fill="#d42a2a"/>
<rect x="516" y="485" width="1" height="17" fill="#d42a2a"/>
<text x="453.5" y="508.5" font-size="13" fill="#161290" text-anchor="start" >30x5</text>
<text x="452.5" y="524.7" font-size="13" fill="#161290" text-anchor="start" >447 A</text>
<rect x="337" y="565" width="325" height="1" fill="#000"/>
<rect x="358" y="560" width="283" height="1" fill="#000"/>
<line x1="349.5" y1="564.5" x2="358.5" y2="560.5" stroke="#000" stroke-width="1"/>
<rect x="337" y="564" width="13" height="1" fill="#000"/>
<rect x="336" y="560" width="2" height="6" fill="#000"/>
<line x1="640.5" y1="560.5" x2="648.5" y2="564.5" stroke="#000" stroke-width="1"/>
<rect x="648" y="564" width="14" height="1" fill="#000"/>
<rect x="661" y="560" width="2" height="6" fill="#000"/>
<path d="M387.5 574.5H428.5V576.5H387.5Z" fill="none" stroke="#000"/>
<rect x="399" y="565" width="1" height="10" fill="#000"/>
<rect x="402" y="565" width="1" height="10" fill="#000"/>
<rect x="426" y="565" width="2" height="10" fill="#000"/>
<rect x="428" y="566" width="13" height="1" fill="#000"/>
<rect x="428" y="570" width="13" height="1" fill="#000"/>
<rect x="519" y="566" width="10" height="1" fill="#000"/>
<rect x="519" y="570" width="10" height="1" fill="#000"/>
<rect x="428" y="565" width="1" height="67" fill="#000"/>
<rect x="428" y="631" width="96" height="1" fill="#000"/>
<rect x="428" y="631" width="10" height="2" fill="#000"/>
<rect x="523" y="631" width="1" height="6" fill="#000"/>
<rect x="503" y="636" width="21" height="1" fill="#000"/>
<rect x="503" y="636" width="1" height="36" fill="#000"/>
<rect x="503" y="671" width="90" height="1" fill="#000"/>
<path d="M529.5 633.5H592.5V671.5H529.5Z" fill="none" stroke="#000"/>
<path d="M531.5 671.5H590.5V679.5H531.5Z" fill="none" stroke="#000"/>
<rect x="545" y="677" width="16" height="2" fill="#000"/>
<path d="M563.5 676.5H566.5V679.5H563.5Z" fill="none" stroke="#000"/>
<path d="M552 657 L557 665 L547 665 Z" fill="none" stroke="#000" stroke-width="1.3" shape-rendering="auto"/>
<rect x="551" y="660" width="2" height="4" fill="#000"/>
<circle cx="561.5" cy="647.5" r="2.2" fill="#fff" stroke="#000" stroke-width="1" shape-rendering="auto"/>
<rect x="561" y="650" width="2" height="13" fill="#000"/>
<text x="505" y="683" font-size="5.5" fill="#161290" text-anchor="start" font-weight="bold">ZOD</text>
<rect x="528" y="565" width="1" height="24" fill="#000"/>
<rect x="528" y="588" width="32" height="1" fill="#000"/>
<path d="M560.5 576.5H592.5V617.5H560.5Z" fill="none" stroke="#000"/>
<rect x="575" y="576" width="1" height="42" fill="#000"/>
<rect x="579" y="576" width="1" height="42" fill="#000"/>
<rect x="592" y="576" width="1" height="96" fill="#000"/>
<line x1="599.5" y1="589.5" x2="592.5" y2="622.5" stroke="#000" stroke-width="1"/>
<path d="M600.5 565.5H661.5V591.5H600.5Z" fill="none" stroke="#000"/>
<rect x="609" y="565" width="1" height="27" fill="#000"/>
<rect x="652" y="565" width="1" height="27" fill="#000"/>
<path d="M621.5 591.5H642.5V600.5H621.5Z" fill="none" stroke="#000"/>
<rect x="623" y="598" width="18" height="1" fill="#000"/>
<text x="598" y="606" font-size="6" fill="#161290" text-anchor="start" font-weight="bold">2F8</text>
<rect x="440" y="565" width="14" height="17" fill="#fbe4e4"/>
<path d="M440.5 565.5H453.5V581.5H440.5Z" fill="none" stroke="#d42a2a"/>
<rect x="442" y="565" width="1" height="17" fill="#d42a2a"/>
<rect x="447" y="565" width="1" height="17" fill="#d42a2a"/>
<rect x="451" y="565" width="1" height="17" fill="#d42a2a"/>
<rect x="440" y="582" width="14" height="1" fill="#e08080"/>
<path d="M440.5 583.5H453.5V625.5H440.5Z" fill="none" stroke="#000"/>
<rect x="440" y="588" width="14" height="1" fill="#000"/>
<rect x="440" y="620" width="14" height="1" fill="#000"/>
<rect x="462" y="565" width="14" height="17" fill="#fbe4e4"/>
<path d="M462.5 565.5H475.5V581.5H462.5Z" fill="none" stroke="#d42a2a"/>
<rect x="464" y="565" width="1" height="17" fill="#d42a2a"/>
<rect x="469" y="565" width="1" height="17" fill="#d42a2a"/>
<rect x="473" y="565" width="1" height="17" fill="#d42a2a"/>
<rect x="462" y="582" width="14" height="1" fill="#e08080"/>
<path d="M462.5 583.5H475.5V625.5H462.5Z" fill="none" stroke="#000"/>
<rect x="462" y="588" width="14" height="1" fill="#000"/>
<rect x="462" y="620" width="14" height="1" fill="#000"/>
<rect x="484" y="565" width="14" height="17" fill="#fbe4e4"/>
<path d="M484.5 565.5H497.5V581.5H484.5Z" fill="none" stroke="#d42a2a"/>
<rect x="486" y="565" width="1" height="17" fill="#d42a2a"/>
<rect x="491" y="565" width="1" height="17" fill="#d42a2a"/>
<rect x="495" y="565" width="1" height="17" fill="#d42a2a"/>
<rect x="484" y="582" width="14" height="1" fill="#e08080"/>
<path d="M484.5 583.5H497.5V625.5H484.5Z" fill="none" stroke="#000"/>
<rect x="484" y="588" width="14" height="1" fill="#000"/>
<rect x="484" y="620" width="14" height="1" fill="#000"/>
<rect x="505" y="565" width="14" height="17" fill="#fbe4e4"/>
<path d="M505.5 565.5H518.5V581.5H505.5Z" fill="none" stroke="#d42a2a"/>
<rect x="507" y="565" width="1" height="17" fill="#d42a2a"/>
<rect x="512" y="565" width="1" height="17" fill="#d42a2a"/>
<rect x="516" y="565" width="1" height="17" fill="#d42a2a"/>
<rect x="505" y="582" width="14" height="1" fill="#e08080"/>
<path d="M505.5 583.5H518.5V625.5H505.5Z" fill="none" stroke="#000"/>
<rect x="505" y="588" width="14" height="1" fill="#000"/>
<rect x="505" y="620" width="14" height="1" fill="#000"/>
<rect x="453" y="575" width="9" height="13" fill="#000"/>
<rect x="455" y="576" width="1" height="11" fill="#fff"/>
<rect x="458" y="576" width="1" height="11" fill="#fff"/>
<rect x="453" y="616" width="9" height="13" fill="#000"/>
<rect x="455" y="617" width="1" height="11" fill="#fff"/>
<rect x="458" y="617" width="1" height="11" fill="#fff"/>
<path d="M454.5 588.5H460.5V615.5H454.5Z" fill="none" stroke="#000"/>
<rect x="475" y="575" width="9" height="13" fill="#000"/>
<rect x="477" y="576" width="1" height="11" fill="#fff"/>
<rect x="480" y="576" width="1" height="11" fill="#fff"/>
<rect x="475" y="616" width="9" height="13" fill="#000"/>
<rect x="477" y="617" width="1" height="11" fill="#fff"/>
<rect x="480" y="617" width="1" height="11" fill="#fff"/>
<path d="M476.5 588.5H482.5V615.5H476.5Z" fill="none" stroke="#000"/>
<rect x="497" y="575" width="9" height="13" fill="#000"/>
<rect x="499" y="576" width="1" height="11" fill="#fff"/>
<rect x="502" y="576" width="1" height="11" fill="#fff"/>
<rect x="497" y="616" width="9" height="13" fill="#000"/>
<rect x="499" y="617" width="1" height="11" fill="#fff"/>
<rect x="502" y="617" width="1" height="11" fill="#fff"/>
<path d="M498.5 588.5H504.5V615.5H498.5Z" fill="none" stroke="#000"/>
<path d="M436.5 575.5H440.5V587.5H436.5Z" fill="none" stroke="#000"/>
<path d="M519.5 575.5H523.5V587.5H519.5Z" fill="none" stroke="#000"/>
<path d="M436.5 616.5H440.5V628.5H436.5Z" fill="none" stroke="#000"/>
<path d="M519.5 616.5H523.5V628.5H519.5Z" fill="none" stroke="#000"/>
<g shape-rendering="auto">
<path d="M732.0 114.4 L733.5 107.5 L738.5 100.8 L888.0 26.9 L893.0 28.7 L894.5 34.1 L894.5 218.6 L893.0 225.5 L888.0 231.0 L738.5 304.8 L733.5 304.2 L732.0 298.9 Z" fill="none" stroke="#000" stroke-width="1" stroke-linejoin="round" />
<path d="M737.0 104.2 L889.5 28.9" fill="none" stroke="#000" stroke-width="1"/>
<path d="M735.0 113.5 L735.0 300.5" fill="none" stroke="#000" stroke-width="1"/>
<rect x="741.4" y="102.9" width="1.8" height="1.8" fill="#000"/>
<rect x="741.4" y="298.4" width="1.8" height="1.8" fill="#000"/>
<rect x="747.4" y="99.9" width="1.8" height="1.8" fill="#000"/>
<rect x="747.4" y="295.4" width="1.8" height="1.8" fill="#000"/>
<rect x="752.9" y="97.2" width="1.8" height="1.8" fill="#000"/>
<rect x="752.9" y="292.7" width="1.8" height="1.8" fill="#000"/>
<rect x="758.4" y="94.5" width="1.8" height="1.8" fill="#000"/>
<rect x="758.4" y="290.0" width="1.8" height="1.8" fill="#000"/>
<rect x="867.4" y="40.6" width="1.8" height="1.8" fill="#000"/>
<rect x="867.4" y="236.2" width="1.8" height="1.8" fill="#000"/>
<rect x="872.9" y="37.9" width="1.8" height="1.8" fill="#000"/>
<rect x="872.9" y="233.4" width="1.8" height="1.8" fill="#000"/>
<rect x="878.4" y="35.2" width="1.8" height="1.8" fill="#000"/>
<rect x="878.4" y="230.7" width="1.8" height="1.8" fill="#000"/>
<rect x="883.9" y="32.5" width="1.8" height="1.8" fill="#000"/>
<rect x="883.9" y="228.0" width="1.8" height="1.8" fill="#000"/>
<rect x="891.4" y="36.4" width="2.2" height="2.2" fill="#000"/>
<rect x="732.9" y="114.7" width="2.2" height="2.2" fill="#000"/>
<rect x="891.4" y="214.8" width="2.2" height="2.2" fill="#000"/>
<rect x="732.9" y="293.1" width="2.2" height="2.2" fill="#000"/>
<path d="M763.5 267.9 L795.0 252.3 L795.0 260.2 L763.5 275.8 Z" fill="#fff" stroke="#000" stroke-width="1.3" stroke-linejoin="round" />
<line x1="763.5" y1="267.9" x2="795.0" y2="252.3" stroke="#000" stroke-width="2"/>
<ellipse cx="766.0" cy="270.9" rx="1.0" ry="1.1" fill="none" stroke="#000" stroke-width="1"/>
<ellipse cx="787.5" cy="260.3" rx="1.0" ry="1.1" fill="none" stroke="#000" stroke-width="1"/>
<ellipse cx="792.0" cy="258.1" rx="1.0" ry="1.1" fill="none" stroke="#000" stroke-width="1"/>
<path d="M864.0 63.8 L894.0 49.0 L908.0 55.9 L878.0 70.7 Z" fill="#fff" stroke="#000" stroke-width="1" stroke-linejoin="round" />
<path d="M878.0 70.7 L908.0 55.9 L908.0 176.9 L878.0 191.7 Z" fill="#fff" stroke="#000" stroke-width="1" stroke-linejoin="round" />
<path d="M864.0 63.8 L878.0 70.7 L878.0 191.7 L864.0 184.8 Z" fill="#fff" stroke="#000" stroke-width="1" stroke-linejoin="round" />
<path d="M882.0 72.4 L904.0 61.5 L904.0 174.0 L882.0 184.8 Z" fill="none" stroke="#000" stroke-width="1" stroke-linejoin="round" />
<path d="M881.0 71.1 L905.0 59.2 L905.0 175.3 L881.0 187.2 Z" fill="none" stroke="#000" stroke-width="1" stroke-linejoin="round" />
<line x1="889.0" y1="69.0" x2="889.0" y2="92.8" stroke="#000" stroke-width="0.9"/>
<line x1="890.0" y1="68.5" x2="890.0" y2="92.3" stroke="#000" stroke-width="0.9"/>
<line x1="890.5" y1="68.2" x2="890.5" y2="92.0" stroke="#000" stroke-width="0.9"/>
<line x1="895.5" y1="65.7" x2="895.5" y2="89.6" stroke="#000" stroke-width="0.9"/>
<line x1="896.0" y1="65.5" x2="896.0" y2="89.3" stroke="#000" stroke-width="0.9"/>
<line x1="897.0" y1="65.0" x2="897.0" y2="88.8" stroke="#000" stroke-width="0.9"/>
<path d="M881.5 96.5 L896.5 89.1 L896.5 120.2 L881.5 127.7 Z" fill="#9c9c9c" stroke="#808080" stroke-width="1" stroke-linejoin="round" />
<path d="M887.5 94.7 L895.5 90.8 L895.5 96.3 L887.5 100.2 Z" fill="#111" stroke="#111" stroke-width="1" stroke-linejoin="round" />
<path d="M888.5 95.5 L890.5 94.5 L890.5 97.5 L888.5 98.5 Z" fill="#fff" stroke="none" stroke-width="1" stroke-linejoin="round" />
<path d="M887.5 102.7 L895.5 98.7 L895.5 104.2 L887.5 108.2 Z" fill="#111" stroke="#111" stroke-width="1" stroke-linejoin="round" />
<path d="M888.5 103.4 L890.5 102.4 L890.5 105.5 L888.5 106.5 Z" fill="#fff" stroke="none" stroke-width="1" stroke-linejoin="round" />
<path d="M887.5 110.6 L895.5 106.7 L895.5 112.2 L887.5 116.1 Z" fill="#111" stroke="#111" stroke-width="1" stroke-linejoin="round" />
<path d="M888.5 111.4 L890.5 110.4 L890.5 113.4 L888.5 114.4 Z" fill="#fff" stroke="none" stroke-width="1" stroke-linejoin="round" />
<path d="M887.5 118.6 L895.5 114.6 L895.5 120.1 L887.5 124.1 Z" fill="#111" stroke="#111" stroke-width="1" stroke-linejoin="round" />
<path d="M888.5 119.3 L890.5 118.3 L890.5 121.4 L888.5 122.4 Z" fill="#fff" stroke="none" stroke-width="1" stroke-linejoin="round" />
<path d="M883.0 135.5 L903.0 125.6 L903.0 134.8 L883.0 144.6 Z" fill="#fff" stroke="#000" stroke-width="1" stroke-linejoin="round" />
<path d="M883.0 144.6 L903.0 134.8 L903.0 148.8 L883.0 158.7 Z" fill="#fff" stroke="#000" stroke-width="1" stroke-linejoin="round" />
<path d="M887.5 142.4 L889.0 141.7 L889.0 155.7 L887.5 156.5 Z" fill="#000" stroke="#000" stroke-width="1" stroke-linejoin="round" />
<path d="M891.5 140.4 L893.0 139.7 L893.0 153.7 L891.5 154.5 Z" fill="#000" stroke="#000" stroke-width="1" stroke-linejoin="round" />
<path d="M897.5 137.5 L899.0 136.7 L899.0 150.8 L897.5 151.5 Z" fill="#000" stroke="#000" stroke-width="1" stroke-linejoin="round" />
<line x1="886.0" y1="134.0" x2="886.0" y2="143.1" stroke="#000" stroke-width="1"/>
<line x1="888.5" y1="132.7" x2="888.5" y2="141.9" stroke="#000" stroke-width="1"/>
<line x1="898.0" y1="128.1" x2="898.0" y2="137.2" stroke="#000" stroke-width="1"/>
<line x1="900.5" y1="126.8" x2="900.5" y2="136.0" stroke="#000" stroke-width="1"/>
<line x1="883.0" y1="149.5" x2="903.0" y2="139.6" stroke="#000" stroke-width="1"/>
<line x1="883.0" y1="154.1" x2="903.0" y2="144.2" stroke="#000" stroke-width="1"/>
<line x1="883.0" y1="158.7" x2="903.0" y2="148.8" stroke="#000" stroke-width="1"/>
<path d="M883.0 159.9 L903.0 150.0 L903.0 159.2 L883.0 169.1 Z" fill="#fff" stroke="#000" stroke-width="1" stroke-linejoin="round" />
<path d="M883.0 169.1 L903.0 159.2 L903.0 173.2 L883.0 183.1 Z" fill="#fff" stroke="#000" stroke-width="1" stroke-linejoin="round" />
<path d="M887.5 166.8 L889.0 166.1 L889.0 180.2 L887.5 180.9 Z" fill="#000" stroke="#000" stroke-width="1" stroke-linejoin="round" />
<path d="M891.5 164.9 L893.0 164.1 L893.0 178.2 L891.5 178.9 Z" fill="#000" stroke="#000" stroke-width="1" stroke-linejoin="round" />
<path d="M897.5 161.9 L899.0 161.2 L899.0 175.2 L897.5 176.0 Z" fill="#000" stroke="#000" stroke-width="1" stroke-linejoin="round" />
<line x1="886.0" y1="158.4" x2="886.0" y2="167.6" stroke="#000" stroke-width="1"/>
<line x1="888.5" y1="157.2" x2="888.5" y2="166.4" stroke="#000" stroke-width="1"/>
<line x1="898.0" y1="152.5" x2="898.0" y2="161.7" stroke="#000" stroke-width="1"/>
<line x1="900.5" y1="151.3" x2="900.5" y2="160.4" stroke="#000" stroke-width="1"/>
<line x1="883.0" y1="174.0" x2="903.0" y2="164.1" stroke="#000" stroke-width="1"/>
<line x1="883.0" y1="178.5" x2="903.0" y2="168.7" stroke="#000" stroke-width="1"/>
<line x1="883.0" y1="183.1" x2="903.0" y2="173.2" stroke="#000" stroke-width="1"/>
<path d="M887.5 187.6 L899.0 181.9 L899.0 186.2 L887.5 191.9 Z" fill="#4f6d90" stroke="#4f6d90" stroke-width="1" stroke-linejoin="round" />
<line x1="890.5" y1="190.4" x2="890.5" y2="197.7" stroke="#000" stroke-width="1.5"/>
<line x1="895.5" y1="187.9" x2="895.5" y2="195.3" stroke="#000" stroke-width="1.5"/>
<path d="M833.0 128.1 L865.0 112.2 L903.0 131.0 L871.0 146.8 Z" fill="#fff" stroke="#000" stroke-width="1" stroke-linejoin="round" />
<path d="M871.0 146.8 L903.0 131.0 L903.0 161.6 L871.0 177.4 Z" fill="#fff" stroke="#000" stroke-width="1" stroke-linejoin="round" />
<path d="M833.0 128.1 L871.0 146.8 L871.0 177.4 L833.0 158.6 Z" fill="#fff" stroke="#000" stroke-width="1" stroke-linejoin="round" />
<line x1="845.0" y1="134.0" x2="861.0" y2="126.1" stroke="#000" stroke-width="1"/>
<line x1="848.0" y1="135.5" x2="864.0" y2="127.6" stroke="#000" stroke-width="1"/>
<line x1="851.0" y1="136.9" x2="867.0" y2="129.0" stroke="#000" stroke-width="1"/>
<line x1="854.0" y1="138.4" x2="870.0" y2="130.5" stroke="#000" stroke-width="1"/>
<line x1="857.0" y1="139.9" x2="889.0" y2="124.1" stroke="#000" stroke-width="1"/>
<path d="M780.0 153.1 L830.0 128.4 L861.0 143.7 L811.0 168.4 Z" fill="#fff" stroke="#000" stroke-width="1" stroke-linejoin="round" />
<path d="M811.0 168.4 L861.0 143.7 L861.0 172.4 L811.0 197.1 Z" fill="#fff" stroke="#000" stroke-width="1" stroke-linejoin="round" />
<path d="M780.0 153.1 L811.0 168.4 L811.0 197.1 L780.0 181.8 Z" fill="#fff" stroke="#000" stroke-width="1" stroke-linejoin="round" />
<path d="M780.0 136.0 L784.0 134.0 L789.0 136.5 L785.0 138.5 Z" fill="#fff" stroke="#000" stroke-width="1" stroke-linejoin="round" />
<path d="M785.0 138.5 L789.0 136.5 L789.0 148.7 L785.0 150.7 Z" fill="#fff" stroke="#000" stroke-width="1" stroke-linejoin="round" />
<path d="M780.0 136.0 L785.0 138.5 L785.0 150.7 L780.0 148.2 Z" fill="#fff" stroke="#000" stroke-width="1" stroke-linejoin="round" />
<path d="M825.5 113.5 L830.0 111.3 L835.0 113.8 L830.5 116.0 Z" fill="#fff" stroke="#000" stroke-width="1" stroke-linejoin="round" />
<path d="M830.5 116.0 L835.0 113.8 L835.0 126.0 L830.5 128.2 Z" fill="#fff" stroke="#000" stroke-width="1" stroke-linejoin="round" />
<path d="M825.5 113.5 L830.5 116.0 L830.5 128.2 L825.5 125.7 Z" fill="#fff" stroke="#000" stroke-width="1" stroke-linejoin="round" />
<line x1="811.0" y1="169.0" x2="861.0" y2="144.3" stroke="#000" stroke-width="1"/>
<path d="M819.5 109.5 L826.5 113.0 L826.5 127.7 L819.5 124.2 Z" fill="url(#rd)" stroke="#d42a2a" stroke-width="0.9" stroke-linejoin="round" />
<path d="M826.5 111.2 L833.0 107.9 L833.0 124.4 L826.5 127.7 Z" fill="#fff" stroke="#000" stroke-width="1" stroke-linejoin="round" />
<ellipse cx="830.0" cy="113.1" rx="1.5" ry="1.7" fill="none" stroke="#000" stroke-width="1"/>
<ellipse cx="830.0" cy="120.4" rx="1.5" ry="1.7" fill="#000" stroke="#000" stroke-width="1"/>
<path d="M808.5 115.0 L815.5 118.4 L815.5 133.1 L808.5 129.6 Z" fill="url(#rd)" stroke="#d42a2a" stroke-width="0.9" stroke-linejoin="round" />
<path d="M815.5 116.6 L822.0 113.4 L822.0 129.9 L815.5 133.1 Z" fill="#fff" stroke="#000" stroke-width="1" stroke-linejoin="round" />
<ellipse cx="819.0" cy="118.5" rx="1.5" ry="1.7" fill="none" stroke="#000" stroke-width="1"/>
<ellipse cx="819.0" cy="125.9" rx="1.5" ry="1.7" fill="#000" stroke="#000" stroke-width="1"/>
<path d="M798.0 120.2 L805.0 123.6 L805.0 138.3 L798.0 134.8 Z" fill="url(#rd)" stroke="#d42a2a" stroke-width="0.9" stroke-linejoin="round" />
<path d="M805.0 121.8 L811.5 118.6 L811.5 135.1 L805.0 138.3 Z" fill="#fff" stroke="#000" stroke-width="1" stroke-linejoin="round" />
<ellipse cx="808.5" cy="123.7" rx="1.5" ry="1.7" fill="none" stroke="#000" stroke-width="1"/>
<ellipse cx="808.5" cy="131.0" rx="1.5" ry="1.7" fill="#000" stroke="#000" stroke-width="1"/>
<path d="M787.0 125.6 L794.0 129.0 L794.0 143.7 L787.0 140.2 Z" fill="url(#rd)" stroke="#d42a2a" stroke-width="0.9" stroke-linejoin="round" />
<path d="M794.0 127.2 L800.5 124.0 L800.5 140.5 L794.0 143.7 Z" fill="#fff" stroke="#000" stroke-width="1" stroke-linejoin="round" />
<ellipse cx="797.5" cy="129.1" rx="1.5" ry="1.7" fill="none" stroke="#000" stroke-width="1"/>
<ellipse cx="797.5" cy="136.5" rx="1.5" ry="1.7" fill="#000" stroke="#000" stroke-width="1"/>
<path d="M824.0 126.9 L831.5 123.2 L855.5 135.1 L848.0 138.8 Z" fill="#fff" stroke="#000" stroke-width="1" stroke-linejoin="round" />
<path d="M848.0 138.8 L855.5 135.1 L855.5 146.1 L848.0 149.8 Z" fill="#fff" stroke="#000" stroke-width="1" stroke-linejoin="round" />
<path d="M824.0 126.9 L848.0 138.8 L848.0 149.8 L824.0 137.9 Z" fill="#fff" stroke="#000" stroke-width="1" stroke-linejoin="round" />
<path d="M849.0 139.5 L854.5 136.8 L854.5 145.3 L849.0 148.0 Z" fill="none" stroke="#000" stroke-width="1" stroke-linejoin="round" />
<ellipse cx="851.8" cy="142.4" rx="1.7" ry="1.9" fill="none" stroke="#000" stroke-width="1"/>
<line x1="825.0" y1="128.6" x2="847.0" y2="139.5" stroke="#000" stroke-width="2.2"/>
<line x1="825.0" y1="137.2" x2="847.0" y2="148.0" stroke="#000" stroke-width="1.6"/>
<path d="M813.0 132.3 L820.5 128.6 L844.5 140.5 L837.0 144.2 Z" fill="#fff" stroke="#000" stroke-width="1" stroke-linejoin="round" />
<path d="M837.0 144.2 L844.5 140.5 L844.5 151.5 L837.0 155.2 Z" fill="#fff" stroke="#000" stroke-width="1" stroke-linejoin="round" />
<path d="M813.0 132.3 L837.0 144.2 L837.0 155.2 L813.0 143.3 Z" fill="#fff" stroke="#000" stroke-width="1" stroke-linejoin="round" />
<path d="M838.0 144.9 L843.5 142.2 L843.5 150.8 L838.0 153.5 Z" fill="none" stroke="#000" stroke-width="1" stroke-linejoin="round" />
<ellipse cx="840.8" cy="147.8" rx="1.7" ry="1.9" fill="none" stroke="#000" stroke-width="1"/>
<line x1="814.0" y1="134.1" x2="836.0" y2="144.9" stroke="#000" stroke-width="2.2"/>
<line x1="814.0" y1="142.6" x2="836.0" y2="153.5" stroke="#000" stroke-width="1.6"/>
<path d="M802.5 137.5 L810.0 133.8 L834.0 145.7 L826.5 149.4 Z" fill="#fff" stroke="#000" stroke-width="1" stroke-linejoin="round" />
<path d="M826.5 149.4 L834.0 145.7 L834.0 156.7 L826.5 160.4 Z" fill="#fff" stroke="#000" stroke-width="1" stroke-linejoin="round" />
<path d="M802.5 137.5 L826.5 149.4 L826.5 160.4 L802.5 148.5 Z" fill="#fff" stroke="#000" stroke-width="1" stroke-linejoin="round" />
<path d="M827.5 150.1 L833.0 147.4 L833.0 156.0 L827.5 158.7 Z" fill="none" stroke="#000" stroke-width="1" stroke-linejoin="round" />
<ellipse cx="830.2" cy="153.0" rx="1.7" ry="1.9" fill="none" stroke="#000" stroke-width="1"/>
<line x1="803.5" y1="139.2" x2="825.5" y2="150.1" stroke="#000" stroke-width="2.2"/>
<line x1="803.5" y1="147.8" x2="825.5" y2="158.7" stroke="#000" stroke-width="1.6"/>
<path d="M791.5 143.0 L799.0 139.3 L823.0 151.1 L815.5 154.8 Z" fill="#fff" stroke="#000" stroke-width="1" stroke-linejoin="round" />
<path d="M815.5 154.8 L823.0 151.1 L823.0 162.1 L815.5 165.8 Z" fill="#fff" stroke="#000" stroke-width="1" stroke-linejoin="round" />
<path d="M791.5 143.0 L815.5 154.8 L815.5 165.8 L791.5 154.0 Z" fill="#fff" stroke="#000" stroke-width="1" stroke-linejoin="round" />
<path d="M816.5 155.5 L822.0 152.8 L822.0 161.4 L816.5 164.1 Z" fill="none" stroke="#000" stroke-width="1" stroke-linejoin="round" />
<ellipse cx="819.2" cy="158.5" rx="1.7" ry="1.9" fill="none" stroke="#000" stroke-width="1"/>
<line x1="792.5" y1="144.7" x2="814.5" y2="155.5" stroke="#000" stroke-width="2.2"/>
<line x1="792.5" y1="153.2" x2="814.5" y2="164.1" stroke="#000" stroke-width="1.6"/>
<path d="M851.5 156.3 L864.5 149.8 L882.0 158.5 L869.0 164.9 Z" fill="#fff" stroke="#000" stroke-width="1" stroke-linejoin="round" />
<path d="M869.0 164.9 L882.0 158.5 L882.0 186.0 L869.0 192.4 Z" fill="#fff" stroke="#000" stroke-width="1" stroke-linejoin="round" />
<path d="M851.5 156.3 L869.0 164.9 L869.0 192.4 L851.5 183.8 Z" fill="#fff" stroke="#000" stroke-width="1" stroke-linejoin="round" />
<path d="M866.5 143.0 L900.0 126.5 L915.0 133.9 L881.5 150.4 Z" fill="#fff" stroke="#000" stroke-width="1" stroke-linejoin="round" />
<path d="M881.5 150.4 L915.0 133.9 L915.0 164.4 L881.5 181.0 Z" fill="#fff" stroke="#000" stroke-width="1" stroke-linejoin="round" />
<path d="M866.5 143.0 L881.5 150.4 L881.5 181.0 L866.5 173.6 Z" fill="#fff" stroke="#000" stroke-width="1" stroke-linejoin="round" />
<path d="M881.5 153.5 L915.0 136.9 L915.0 136.9 L881.5 153.5 Z" fill="none" stroke="#000" stroke-width="1" stroke-linejoin="round" />
<path d="M883.5 156.2 L889.5 153.2 L889.5 171.5 L883.5 174.5 Z" fill="none" stroke="#000" stroke-width="1" stroke-linejoin="round" />
<ellipse cx="886.5" cy="160.2" rx="1.8" ry="2.0" fill="none" stroke="#000" stroke-width="1"/>
<ellipse cx="886.5" cy="166.9" rx="1.8" ry="2.0" fill="none" stroke="#000" stroke-width="1"/>
<path d="M902.5 148.0 L906.5 146.0 L906.5 157.0 L902.5 159.0 Z" fill="#fff" stroke="#000" stroke-width="1" stroke-linejoin="round" />
<path d="M903.5 147.5 L905.5 146.5 L905.5 155.1 L903.5 156.1 Z" fill="#000" stroke="#000" stroke-width="1" stroke-linejoin="round" />
<path d="M884.5 172.8 L913.5 158.5 L913.5 165.2 L884.5 179.5 Z" fill="#fff" stroke="#000" stroke-width="1" stroke-linejoin="round" />
<line x1="891.5" y1="169.3" x2="891.5" y2="180.3" stroke="#000" stroke-width="1.3"/>
<line x1="896.5" y1="166.9" x2="896.5" y2="177.9" stroke="#000" stroke-width="1.3"/>
<line x1="902.5" y1="163.9" x2="902.5" y2="174.9" stroke="#000" stroke-width="1.3"/>
<line x1="907.5" y1="161.4" x2="907.5" y2="172.4" stroke="#000" stroke-width="1.3"/>
<path d="M890.5 176.5 L907.5 168.1 L907.5 170.6 L890.5 179.0 Z" fill="#5b7594" stroke="#5b7594" stroke-width="1" stroke-linejoin="round" />
<line x1="886.0" y1="140.3" x2="891.0" y2="142.8" stroke="#000" stroke-width="2"/>
<line x1="890.5" y1="138.1" x2="895.5" y2="140.6" stroke="#000" stroke-width="2"/>
<path d="M787.0 183.6 L794.0 187.1 L794.0 200.5 L787.0 197.1 Z" fill="url(#rd)" stroke="#d42a2a" stroke-width="0.9" stroke-linejoin="round" />
<path d="M794.0 188.9 L800.5 185.7 L800.5 205.9 L794.0 209.1 Z" fill="#fff" stroke="#000" stroke-width="1" stroke-linejoin="round" />
<line x1="794.0" y1="188.9" x2="794.0" y2="209.1" stroke="#000" stroke-width="2"/>
<ellipse cx="797.5" cy="192.1" rx="1.5" ry="1.7" fill="none" stroke="#000" stroke-width="1"/>
<ellipse cx="797.5" cy="200.6" rx="1.5" ry="1.7" fill="none" stroke="#000" stroke-width="1"/>
<line x1="774.0" y1="182.0" x2="780.0" y2="179.0" stroke="#000" stroke-width="1"/>
<path d="M845.5 176.1 L852.0 172.9 L852.0 199.2 L845.5 202.4 Z" fill="#fff" stroke="#000" stroke-width="1" stroke-linejoin="round" />
<ellipse cx="849.0" cy="179.3" rx="1.5" ry="1.7" fill="none" stroke="#000" stroke-width="1"/>
<ellipse cx="849.0" cy="194.0" rx="1.5" ry="1.7" fill="none" stroke="#000" stroke-width="1"/>
<line x1="845.0" y1="176.4" x2="845.0" y2="191.1" stroke="#000" stroke-width="2"/>
<path d="M834.5 181.6 L841.0 178.4 L841.0 204.6 L834.5 207.8 Z" fill="#fff" stroke="#000" stroke-width="1" stroke-linejoin="round" />
<ellipse cx="838.0" cy="184.7" rx="1.5" ry="1.7" fill="none" stroke="#000" stroke-width="1"/>
<ellipse cx="838.0" cy="199.4" rx="1.5" ry="1.7" fill="none" stroke="#000" stroke-width="1"/>
<line x1="834.0" y1="181.8" x2="834.0" y2="196.5" stroke="#000" stroke-width="2"/>
<path d="M824.0 186.8 L830.5 183.6 L830.5 209.8 L824.0 213.0 Z" fill="#fff" stroke="#000" stroke-width="1" stroke-linejoin="round" />
<ellipse cx="827.5" cy="189.9" rx="1.5" ry="1.7" fill="none" stroke="#000" stroke-width="1"/>
<ellipse cx="827.5" cy="204.6" rx="1.5" ry="1.7" fill="none" stroke="#000" stroke-width="1"/>
<line x1="823.5" y1="187.0" x2="823.5" y2="201.7" stroke="#000" stroke-width="2"/>
<path d="M813.0 192.2 L819.5 189.0 L819.5 215.3 L813.0 218.5 Z" fill="#fff" stroke="#000" stroke-width="1" stroke-linejoin="round" />
<ellipse cx="816.5" cy="195.4" rx="1.5" ry="1.7" fill="none" stroke="#000" stroke-width="1"/>
<ellipse cx="816.5" cy="210.0" rx="1.5" ry="1.7" fill="none" stroke="#000" stroke-width="1"/>
<line x1="812.5" y1="192.4" x2="812.5" y2="207.1" stroke="#000" stroke-width="2"/>
<path d="M780.0 188.5 L784.0 186.6 L789.0 189.0 L785.0 191.0 Z" fill="#fff" stroke="#000" stroke-width="1" stroke-linejoin="round" />
<path d="M785.0 191.0 L789.0 189.0 L789.0 197.0 L785.0 199.0 Z" fill="#fff" stroke="#000" stroke-width="1" stroke-linejoin="round" />
<path d="M780.0 188.5 L785.0 191.0 L785.0 199.0 L780.0 196.5 Z" fill="#fff" stroke="#000" stroke-width="1" stroke-linejoin="round" />
</g>
<g shape-rendering="auto">
<path d="M788.3 381.4 L789.8 376.0 L794.8 374.2 L944.3 448.1 L949.3 454.8 L950.8 461.7 L950.8 646.2 L949.3 651.6 L944.3 652.2 L794.8 578.3 L789.8 572.8 L788.3 565.9 Z" fill="none" stroke="#000" stroke-width="1" stroke-linejoin="round" />
<path d="M793.3 376.2 L945.8 451.6" fill="none" stroke="#000" stroke-width="1"/>
<path d="M947.8 460.8 L947.8 647.8" fill="none" stroke="#000" stroke-width="1"/>
<rect x="797.6" y="380.1" width="1.8" height="1.8" fill="#000"/>
<rect x="797.6" y="575.6" width="1.8" height="1.8" fill="#000"/>
<rect x="803.6" y="383.0" width="1.8" height="1.8" fill="#000"/>
<rect x="803.6" y="578.6" width="1.8" height="1.8" fill="#000"/>
<rect x="809.1" y="385.8" width="1.8" height="1.8" fill="#000"/>
<rect x="809.1" y="581.3" width="1.8" height="1.8" fill="#000"/>
<rect x="814.6" y="388.5" width="1.8" height="1.8" fill="#000"/>
<rect x="814.6" y="584.0" width="1.8" height="1.8" fill="#000"/>
<rect x="923.6" y="442.3" width="1.8" height="1.8" fill="#000"/>
<rect x="923.6" y="637.8" width="1.8" height="1.8" fill="#000"/>
<rect x="929.1" y="445.0" width="1.8" height="1.8" fill="#000"/>
<rect x="929.1" y="640.6" width="1.8" height="1.8" fill="#000"/>
<rect x="934.6" y="447.7" width="1.8" height="1.8" fill="#000"/>
<rect x="934.6" y="643.3" width="1.8" height="1.8" fill="#000"/>
<rect x="940.1" y="450.5" width="1.8" height="1.8" fill="#000"/>
<rect x="940.1" y="646.0" width="1.8" height="1.8" fill="#000"/>
<rect x="947.7" y="462.0" width="2.2" height="2.2" fill="#000"/>
<rect x="789.2" y="383.7" width="2.2" height="2.2" fill="#000"/>
<rect x="947.7" y="640.5" width="2.2" height="2.2" fill="#000"/>
<rect x="789.2" y="562.2" width="2.2" height="2.2" fill="#000"/>
<path d="M807.8 560.1 L839.3 575.7 L839.3 583.6 L807.8 568.0 Z" fill="#fff" stroke="#000" stroke-width="1.3" stroke-linejoin="round" />
<line x1="807.8" y1="560.1" x2="839.3" y2="575.7" stroke="#000" stroke-width="2"/>
<ellipse cx="810.3" cy="565.6" rx="1.0" ry="1.1" fill="none" stroke="#000" stroke-width="1"/>
<ellipse cx="831.8" cy="576.2" rx="1.0" ry="1.1" fill="none" stroke="#000" stroke-width="1"/>
<ellipse cx="836.3" cy="578.5" rx="1.0" ry="1.1" fill="none" stroke="#000" stroke-width="1"/>
<path d="M832.3 465.6 L882.3 490.3 L851.3 505.6 L801.3 480.9 Z" fill="#fff" stroke="#000" stroke-width="1" stroke-linejoin="round" />
<path d="M801.3 480.9 L851.3 505.6 L851.3 534.3 L801.3 509.6 Z" fill="#fff" stroke="#000" stroke-width="1" stroke-linejoin="round" />
<path d="M882.3 490.3 L851.3 505.6 L851.3 534.3 L882.3 519.0 Z" fill="#fff" stroke="#000" stroke-width="1" stroke-linejoin="round" />
<path d="M832.3 448.5 L836.3 450.5 L831.3 452.9 L827.3 451.0 Z" fill="#fff" stroke="#000" stroke-width="1" stroke-linejoin="round" />
<path d="M827.3 451.0 L831.3 452.9 L831.3 465.2 L827.3 463.2 Z" fill="#fff" stroke="#000" stroke-width="1" stroke-linejoin="round" />
<path d="M836.3 450.5 L831.3 452.9 L831.3 465.2 L836.3 462.7 Z" fill="#fff" stroke="#000" stroke-width="1" stroke-linejoin="round" />
<path d="M877.8 471.0 L882.3 473.2 L877.3 475.7 L872.8 473.4 Z" fill="#fff" stroke="#000" stroke-width="1" stroke-linejoin="round" />
<path d="M872.8 473.4 L877.3 475.7 L877.3 487.9 L872.8 485.7 Z" fill="#fff" stroke="#000" stroke-width="1" stroke-linejoin="round" />
<path d="M882.3 473.2 L877.3 475.7 L877.3 487.9 L882.3 485.4 Z" fill="#fff" stroke="#000" stroke-width="1" stroke-linejoin="round" />
<line x1="801.3" y1="481.5" x2="851.3" y2="506.2" stroke="#000" stroke-width="1"/>
<path d="M843.8 447.2 L836.8 450.7 L836.8 465.3 L843.8 461.9 Z" fill="url(#rd)" stroke="#d42a2a" stroke-width="0.9" stroke-linejoin="round" />
<path d="M830.3 445.6 L836.8 448.9 L836.8 465.3 L830.3 462.1 Z" fill="#fff" stroke="#000" stroke-width="1" stroke-linejoin="round" />
<ellipse cx="833.8" cy="451.0" rx="1.5" ry="1.7" fill="none" stroke="#000" stroke-width="1"/>
<ellipse cx="833.8" cy="458.4" rx="1.5" ry="1.7" fill="#000" stroke="#000" stroke-width="1"/>
<path d="M854.8 452.7 L847.8 456.1 L847.8 470.8 L854.8 467.3 Z" fill="url(#rd)" stroke="#d42a2a" stroke-width="0.9" stroke-linejoin="round" />
<path d="M841.3 451.1 L847.8 454.3 L847.8 470.8 L841.3 467.6 Z" fill="#fff" stroke="#000" stroke-width="1" stroke-linejoin="round" />
<ellipse cx="844.8" cy="456.5" rx="1.5" ry="1.7" fill="none" stroke="#000" stroke-width="1"/>
<ellipse cx="844.8" cy="463.8" rx="1.5" ry="1.7" fill="#000" stroke="#000" stroke-width="1"/>
<path d="M865.3 457.8 L858.3 461.3 L858.3 476.0 L865.3 472.5 Z" fill="url(#rd)" stroke="#d42a2a" stroke-width="0.9" stroke-linejoin="round" />
<path d="M851.8 456.3 L858.3 459.5 L858.3 476.0 L851.8 472.8 Z" fill="#fff" stroke="#000" stroke-width="1" stroke-linejoin="round" />
<ellipse cx="855.3" cy="461.7" rx="1.5" ry="1.7" fill="none" stroke="#000" stroke-width="1"/>
<ellipse cx="855.3" cy="469.0" rx="1.5" ry="1.7" fill="#000" stroke="#000" stroke-width="1"/>
<path d="M876.3 463.3 L869.3 466.7 L869.3 481.4 L876.3 477.9 Z" fill="url(#rd)" stroke="#d42a2a" stroke-width="0.9" stroke-linejoin="round" />
<path d="M862.8 461.7 L869.3 464.9 L869.3 481.4 L862.8 478.2 Z" fill="#fff" stroke="#000" stroke-width="1" stroke-linejoin="round" />
<ellipse cx="866.3" cy="467.1" rx="1.5" ry="1.7" fill="none" stroke="#000" stroke-width="1"/>
<ellipse cx="866.3" cy="474.4" rx="1.5" ry="1.7" fill="#000" stroke="#000" stroke-width="1"/>
<path d="M831.8 460.9 L839.3 464.6 L815.3 476.5 L807.8 472.8 Z" fill="#fff" stroke="#000" stroke-width="1" stroke-linejoin="round" />
<path d="M807.8 472.8 L815.3 476.5 L815.3 487.5 L807.8 483.8 Z" fill="#fff" stroke="#000" stroke-width="1" stroke-linejoin="round" />
<path d="M839.3 464.6 L815.3 476.5 L815.3 487.5 L839.3 475.6 Z" fill="#fff" stroke="#000" stroke-width="1" stroke-linejoin="round" />
<path d="M808.8 474.5 L814.3 477.2 L814.3 485.7 L808.8 483.0 Z" fill="none" stroke="#000" stroke-width="1" stroke-linejoin="round" />
<ellipse cx="811.5" cy="480.1" rx="1.7" ry="1.9" fill="none" stroke="#000" stroke-width="1"/>
<line x1="838.3" y1="466.3" x2="816.3" y2="477.2" stroke="#000" stroke-width="2.2"/>
<line x1="838.3" y1="474.9" x2="816.3" y2="485.7" stroke="#000" stroke-width="1.6"/>
<path d="M842.8 466.3 L850.3 470.0 L826.3 481.9 L818.8 478.2 Z" fill="#fff" stroke="#000" stroke-width="1" stroke-linejoin="round" />
<path d="M818.8 478.2 L826.3 481.9 L826.3 492.9 L818.8 489.2 Z" fill="#fff" stroke="#000" stroke-width="1" stroke-linejoin="round" />
<path d="M850.3 470.0 L826.3 481.9 L826.3 492.9 L850.3 481.0 Z" fill="#fff" stroke="#000" stroke-width="1" stroke-linejoin="round" />
<path d="M819.8 479.9 L825.3 482.6 L825.3 491.2 L819.8 488.5 Z" fill="none" stroke="#000" stroke-width="1" stroke-linejoin="round" />
<ellipse cx="822.5" cy="485.5" rx="1.7" ry="1.9" fill="none" stroke="#000" stroke-width="1"/>
<line x1="849.3" y1="471.8" x2="827.3" y2="482.6" stroke="#000" stroke-width="2.2"/>
<line x1="849.3" y1="480.3" x2="827.3" y2="491.2" stroke="#000" stroke-width="1.6"/>
<path d="M853.3 471.5 L860.8 475.2 L836.8 487.1 L829.3 483.4 Z" fill="#fff" stroke="#000" stroke-width="1" stroke-linejoin="round" />
<path d="M829.3 483.4 L836.8 487.1 L836.8 498.1 L829.3 494.4 Z" fill="#fff" stroke="#000" stroke-width="1" stroke-linejoin="round" />
<path d="M860.8 475.2 L836.8 487.1 L836.8 498.1 L860.8 486.2 Z" fill="#fff" stroke="#000" stroke-width="1" stroke-linejoin="round" />
<path d="M830.3 485.1 L835.8 487.8 L835.8 496.4 L830.3 493.6 Z" fill="none" stroke="#000" stroke-width="1" stroke-linejoin="round" />
<ellipse cx="833.0" cy="490.7" rx="1.7" ry="1.9" fill="none" stroke="#000" stroke-width="1"/>
<line x1="859.8" y1="476.9" x2="837.8" y2="487.8" stroke="#000" stroke-width="2.2"/>
<line x1="859.8" y1="485.5" x2="837.8" y2="496.4" stroke="#000" stroke-width="1.6"/>
<path d="M864.3 477.0 L871.8 480.7 L847.8 492.5 L840.3 488.8 Z" fill="#fff" stroke="#000" stroke-width="1" stroke-linejoin="round" />
<path d="M840.3 488.8 L847.8 492.5 L847.8 503.5 L840.3 499.8 Z" fill="#fff" stroke="#000" stroke-width="1" stroke-linejoin="round" />
<path d="M871.8 480.7 L847.8 492.5 L847.8 503.5 L871.8 491.7 Z" fill="#fff" stroke="#000" stroke-width="1" stroke-linejoin="round" />
<path d="M841.3 490.5 L846.8 493.2 L846.8 501.8 L841.3 499.1 Z" fill="none" stroke="#000" stroke-width="1" stroke-linejoin="round" />
<ellipse cx="844.0" cy="496.2" rx="1.7" ry="1.9" fill="none" stroke="#000" stroke-width="1"/>
<line x1="870.8" y1="482.4" x2="848.8" y2="493.2" stroke="#000" stroke-width="2.2"/>
<line x1="870.8" y1="490.9" x2="848.8" y2="501.8" stroke="#000" stroke-width="1.6"/>
<path d="M879.3 490.0 L911.3 505.8 L873.3 524.5 L841.3 508.7 Z" fill="#fff" stroke="#000" stroke-width="1" stroke-linejoin="round" />
<path d="M841.3 508.7 L873.3 524.5 L873.3 555.1 L841.3 539.3 Z" fill="#fff" stroke="#000" stroke-width="1" stroke-linejoin="round" />
<path d="M911.3 505.8 L873.3 524.5 L873.3 555.1 L911.3 536.3 Z" fill="#fff" stroke="#000" stroke-width="1" stroke-linejoin="round" />
<line x1="911.3" y1="510.7" x2="873.3" y2="529.4" stroke="#000" stroke-width="1"/>
<line x1="911.3" y1="514.3" x2="873.3" y2="533.1" stroke="#000" stroke-width="1"/>
<line x1="911.3" y1="518.0" x2="873.3" y2="536.8" stroke="#000" stroke-width="1"/>
<path d="M811.3 510.6 L817.8 513.8 L817.8 540.1 L811.3 536.9 Z" fill="#fff" stroke="#000" stroke-width="1" stroke-linejoin="round" />
<ellipse cx="814.8" cy="517.2" rx="1.5" ry="1.7" fill="none" stroke="#000" stroke-width="1"/>
<ellipse cx="814.8" cy="531.9" rx="1.5" ry="1.7" fill="none" stroke="#000" stroke-width="1"/>
<line x1="818.3" y1="514.1" x2="818.3" y2="528.7" stroke="#000" stroke-width="2"/>
<path d="M822.3 516.1 L828.8 519.3 L828.8 545.5 L822.3 542.3 Z" fill="#fff" stroke="#000" stroke-width="1" stroke-linejoin="round" />
<ellipse cx="825.8" cy="522.7" rx="1.5" ry="1.7" fill="none" stroke="#000" stroke-width="1"/>
<ellipse cx="825.8" cy="537.3" rx="1.5" ry="1.7" fill="none" stroke="#000" stroke-width="1"/>
<line x1="829.3" y1="519.5" x2="829.3" y2="534.2" stroke="#000" stroke-width="2"/>
<path d="M832.8 521.2 L839.3 524.5 L839.3 550.7 L832.8 547.5 Z" fill="#fff" stroke="#000" stroke-width="1" stroke-linejoin="round" />
<ellipse cx="836.3" cy="527.9" rx="1.5" ry="1.7" fill="none" stroke="#000" stroke-width="1"/>
<ellipse cx="836.3" cy="542.5" rx="1.5" ry="1.7" fill="none" stroke="#000" stroke-width="1"/>
<line x1="839.8" y1="524.7" x2="839.8" y2="539.4" stroke="#000" stroke-width="2"/>
<path d="M843.8 526.7 L850.3 529.9 L850.3 556.2 L843.8 553.0 Z" fill="#fff" stroke="#000" stroke-width="1" stroke-linejoin="round" />
<ellipse cx="847.3" cy="533.3" rx="1.5" ry="1.7" fill="none" stroke="#000" stroke-width="1"/>
<ellipse cx="847.3" cy="548.0" rx="1.5" ry="1.7" fill="none" stroke="#000" stroke-width="1"/>
<line x1="850.8" y1="530.1" x2="850.8" y2="544.8" stroke="#000" stroke-width="2"/>
<path d="M832.3 501.0 L836.3 503.0 L831.3 505.5 L827.3 503.5 Z" fill="#fff" stroke="#000" stroke-width="1" stroke-linejoin="round" />
<path d="M827.3 503.5 L831.3 505.5 L831.3 513.4 L827.3 511.5 Z" fill="#fff" stroke="#000" stroke-width="1" stroke-linejoin="round" />
<path d="M836.3 503.0 L831.3 505.5 L831.3 513.4 L836.3 511.0 Z" fill="#fff" stroke="#000" stroke-width="1" stroke-linejoin="round" />
<path d="M835.8 505.8 L848.8 512.2 L831.3 520.9 L818.3 514.5 Z" fill="#fff" stroke="#000" stroke-width="1" stroke-linejoin="round" />
<path d="M818.3 514.5 L831.3 520.9 L831.3 548.4 L818.3 542.0 Z" fill="#fff" stroke="#000" stroke-width="1" stroke-linejoin="round" />
<path d="M848.8 512.2 L831.3 520.9 L831.3 548.4 L848.8 539.7 Z" fill="#fff" stroke="#000" stroke-width="1" stroke-linejoin="round" />
<path d="M842.8 503.5 L876.3 520.0 L861.3 527.4 L827.8 510.9 Z" fill="#fff" stroke="#000" stroke-width="1" stroke-linejoin="round" />
<path d="M827.8 510.9 L861.3 527.4 L861.3 558.0 L827.8 541.4 Z" fill="#fff" stroke="#000" stroke-width="1" stroke-linejoin="round" />
<path d="M876.3 520.0 L861.3 527.4 L861.3 558.0 L876.3 550.5 Z" fill="#fff" stroke="#000" stroke-width="1" stroke-linejoin="round" />
<path d="M827.8 513.9 L861.3 530.5 L861.3 530.5 L827.8 513.9 Z" fill="none" stroke="#000" stroke-width="1" stroke-linejoin="round" />
<path d="M829.8 518.6 L835.8 521.5 L835.8 539.9 L829.8 536.9 Z" fill="none" stroke="#000" stroke-width="1" stroke-linejoin="round" />
<ellipse cx="832.8" cy="525.6" rx="1.8" ry="2.0" fill="none" stroke="#000" stroke-width="1"/>
<ellipse cx="832.8" cy="532.3" rx="1.8" ry="2.0" fill="none" stroke="#000" stroke-width="1"/>
<path d="M848.8 529.2 L852.8 531.2 L852.8 542.2 L848.8 540.2 Z" fill="#fff" stroke="#000" stroke-width="1" stroke-linejoin="round" />
<path d="M849.8 529.7 L851.8 530.7 L851.8 539.2 L849.8 538.2 Z" fill="#000" stroke="#000" stroke-width="1" stroke-linejoin="round" />
<path d="M830.8 536.2 L859.8 550.5 L859.8 557.2 L830.8 542.9 Z" fill="#fff" stroke="#000" stroke-width="1" stroke-linejoin="round" />
<line x1="837.8" y1="539.6" x2="837.8" y2="550.6" stroke="#000" stroke-width="1.3"/>
<line x1="842.8" y1="542.1" x2="842.8" y2="553.1" stroke="#000" stroke-width="1.3"/>
<line x1="848.8" y1="545.1" x2="848.8" y2="556.1" stroke="#000" stroke-width="1.3"/>
<line x1="853.8" y1="547.5" x2="853.8" y2="558.5" stroke="#000" stroke-width="1.3"/>
<path d="M836.8 545.9 L853.8 554.3 L853.8 556.7 L836.8 548.3 Z" fill="#5b7594" stroke="#5b7594" stroke-width="1" stroke-linejoin="round" />
<line x1="848.3" y1="513.1" x2="843.3" y2="515.6" stroke="#000" stroke-width="2"/>
<line x1="852.8" y1="515.3" x2="847.8" y2="517.8" stroke="#000" stroke-width="2"/>
<path d="M920.3 461.3 L950.3 476.1 L936.3 483.0 L906.3 468.2 Z" fill="#fff" stroke="#000" stroke-width="1" stroke-linejoin="round" />
<path d="M906.3 468.2 L936.3 483.0 L936.3 604.0 L906.3 589.2 Z" fill="#fff" stroke="#000" stroke-width="1" stroke-linejoin="round" />
<path d="M950.3 476.1 L936.3 483.0 L936.3 604.0 L950.3 597.1 Z" fill="#fff" stroke="#000" stroke-width="1" stroke-linejoin="round" />
<path d="M910.3 473.8 L932.3 484.7 L932.3 597.1 L910.3 586.3 Z" fill="none" stroke="#000" stroke-width="1" stroke-linejoin="round" />
<path d="M909.3 471.5 L933.3 483.4 L933.3 599.5 L909.3 587.6 Z" fill="none" stroke="#000" stroke-width="1" stroke-linejoin="round" />
<line x1="917.3" y1="477.3" x2="917.3" y2="501.1" stroke="#000" stroke-width="0.9"/>
<line x1="918.3" y1="477.8" x2="918.3" y2="501.6" stroke="#000" stroke-width="0.9"/>
<line x1="918.8" y1="478.0" x2="918.8" y2="501.9" stroke="#000" stroke-width="0.9"/>
<line x1="923.8" y1="480.5" x2="923.8" y2="504.3" stroke="#000" stroke-width="0.9"/>
<line x1="924.3" y1="480.8" x2="924.3" y2="504.6" stroke="#000" stroke-width="0.9"/>
<line x1="925.3" y1="481.2" x2="925.3" y2="505.1" stroke="#000" stroke-width="0.9"/>
<path d="M919.3 502.1 L931.3 508.0 L931.3 539.2 L919.3 533.3 Z" fill="#9c9c9c" stroke="#808080" stroke-width="1" stroke-linejoin="round" />
<path d="M925.3 506.3 L930.3 508.8 L930.3 514.3 L925.3 511.8 Z" fill="#111" stroke="#111" stroke-width="1" stroke-linejoin="round" />
<path d="M926.3 508.0 L928.3 509.0 L928.3 512.1 L926.3 511.1 Z" fill="#fff" stroke="none" stroke-width="1" stroke-linejoin="round" />
<path d="M925.3 514.2 L930.3 516.7 L930.3 522.2 L925.3 519.7 Z" fill="#111" stroke="#111" stroke-width="1" stroke-linejoin="round" />
<path d="M926.3 516.0 L928.3 516.9 L928.3 520.0 L926.3 519.0 Z" fill="#fff" stroke="none" stroke-width="1" stroke-linejoin="round" />
<path d="M925.3 522.2 L930.3 524.7 L930.3 530.2 L925.3 527.7 Z" fill="#111" stroke="#111" stroke-width="1" stroke-linejoin="round" />
<path d="M926.3 523.9 L928.3 524.9 L928.3 527.9 L926.3 527.0 Z" fill="#fff" stroke="none" stroke-width="1" stroke-linejoin="round" />
<path d="M925.3 530.1 L930.3 532.6 L930.3 538.1 L925.3 535.6 Z" fill="#111" stroke="#111" stroke-width="1" stroke-linejoin="round" />
<path d="M926.3 531.8 L928.3 532.8 L928.3 535.9 L926.3 534.9 Z" fill="#fff" stroke="none" stroke-width="1" stroke-linejoin="round" />
<path d="M911.3 537.9 L931.3 547.8 L931.3 556.9 L911.3 547.0 Z" fill="#fff" stroke="#000" stroke-width="1" stroke-linejoin="round" />
<path d="M911.3 547.0 L931.3 556.9 L931.3 571.0 L911.3 561.1 Z" fill="#fff" stroke="#000" stroke-width="1" stroke-linejoin="round" />
<path d="M915.8 549.3 L917.3 550.0 L917.3 564.1 L915.8 563.3 Z" fill="#000" stroke="#000" stroke-width="1" stroke-linejoin="round" />
<path d="M919.8 551.2 L921.3 552.0 L921.3 566.0 L919.8 565.3 Z" fill="#000" stroke="#000" stroke-width="1" stroke-linejoin="round" />
<path d="M925.8 554.2 L927.3 554.9 L927.3 569.0 L925.8 568.3 Z" fill="#000" stroke="#000" stroke-width="1" stroke-linejoin="round" />
<line x1="914.3" y1="539.4" x2="914.3" y2="548.5" stroke="#000" stroke-width="1"/>
<line x1="916.8" y1="540.6" x2="916.8" y2="549.8" stroke="#000" stroke-width="1"/>
<line x1="926.3" y1="545.3" x2="926.3" y2="554.5" stroke="#000" stroke-width="1"/>
<line x1="928.8" y1="546.5" x2="928.8" y2="555.7" stroke="#000" stroke-width="1"/>
<line x1="911.3" y1="551.9" x2="931.3" y2="561.8" stroke="#000" stroke-width="1"/>
<line x1="911.3" y1="556.5" x2="931.3" y2="566.4" stroke="#000" stroke-width="1"/>
<line x1="911.3" y1="561.1" x2="931.3" y2="571.0" stroke="#000" stroke-width="1"/>
<path d="M911.3 562.3 L931.3 572.2 L931.3 581.4 L911.3 571.5 Z" fill="#fff" stroke="#000" stroke-width="1" stroke-linejoin="round" />
<path d="M911.3 571.5 L931.3 581.4 L931.3 595.4 L911.3 585.5 Z" fill="#fff" stroke="#000" stroke-width="1" stroke-linejoin="round" />
<path d="M915.8 573.7 L917.3 574.4 L917.3 588.5 L915.8 587.8 Z" fill="#000" stroke="#000" stroke-width="1" stroke-linejoin="round" />
<path d="M919.8 575.7 L921.3 576.4 L921.3 590.5 L919.8 589.7 Z" fill="#000" stroke="#000" stroke-width="1" stroke-linejoin="round" />
<path d="M925.8 578.6 L927.3 579.4 L927.3 593.4 L925.8 592.7 Z" fill="#000" stroke="#000" stroke-width="1" stroke-linejoin="round" />
<line x1="914.3" y1="563.8" x2="914.3" y2="573.0" stroke="#000" stroke-width="1"/>
<line x1="916.8" y1="565.0" x2="916.8" y2="574.2" stroke="#000" stroke-width="1"/>
<line x1="926.3" y1="569.7" x2="926.3" y2="578.9" stroke="#000" stroke-width="1"/>
<line x1="928.8" y1="571.0" x2="928.8" y2="580.1" stroke="#000" stroke-width="1"/>
<line x1="911.3" y1="576.4" x2="931.3" y2="586.2" stroke="#000" stroke-width="1"/>
<line x1="911.3" y1="581.0" x2="931.3" y2="590.8" stroke="#000" stroke-width="1"/>
<line x1="911.3" y1="585.5" x2="931.3" y2="595.4" stroke="#000" stroke-width="1"/>
<path d="M915.8 594.5 L927.3 600.2 L927.3 604.4 L915.8 598.8 Z" fill="#4f6d90" stroke="#4f6d90" stroke-width="1" stroke-linejoin="round" />
<line x1="918.8" y1="600.2" x2="918.8" y2="607.6" stroke="#000" stroke-width="1.5"/>
<line x1="923.8" y1="602.7" x2="923.8" y2="610.0" stroke="#000" stroke-width="1.5"/>
</g>
</svg>
</body></html>
